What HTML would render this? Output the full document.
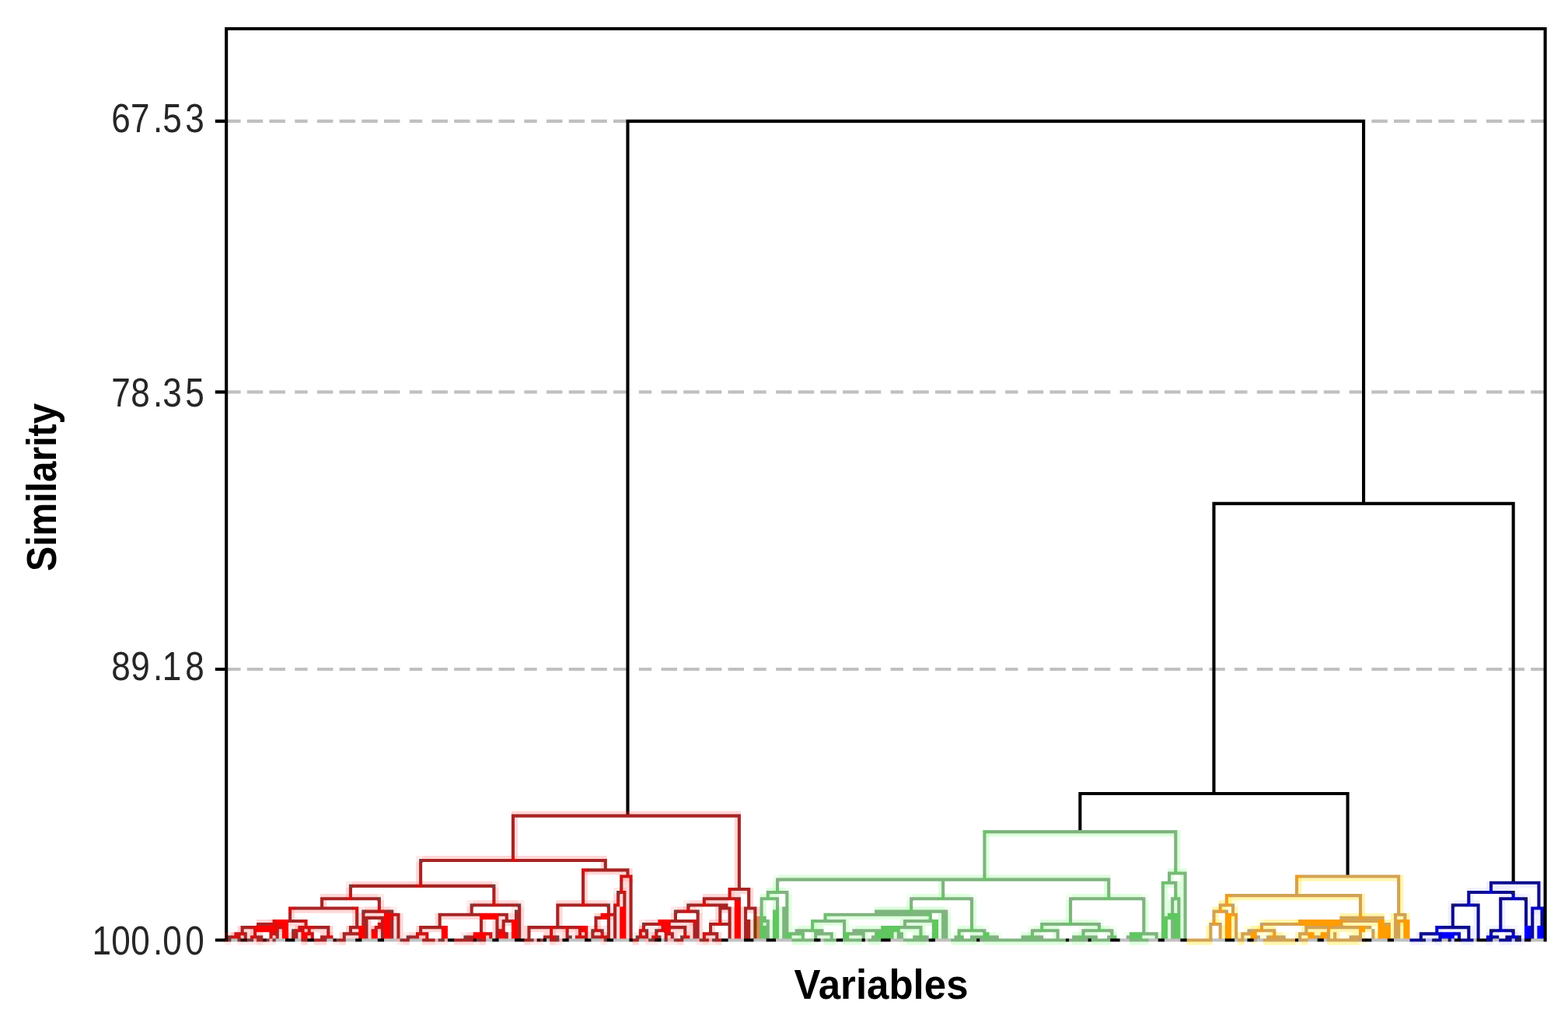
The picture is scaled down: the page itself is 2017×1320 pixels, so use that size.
<!DOCTYPE html>
<html lang="en"><head><meta charset="utf-8"><title>Dendrogram</title>
<style>
html,body{margin:0;padding:0;background:#fff}
body{width:2017px;height:1320px;overflow:hidden}
svg{display:block}
text{font-family:"Liberation Sans",sans-serif;fill:#262626}
.b{font-weight:bold;fill:#000}
</style></head><body>
<svg width="2017" height="1320" viewBox="0 0 2017 1320">
<rect width="2017" height="1320" fill="#fff"/>
<g>
<path fill="#ffffd8" d="M1551.22 1182.9H1555.32V1187H1551.22ZM1551.22 1187H1556.02V1191.8H1551.22ZM1555.32 1182.9H1560.12V1187.7H1555.32ZM1566.91 1182.9H1571.71V1187.7H1566.91ZM1571.71 1182.9H1576.51V1187H1571.71ZM1571.01 1187H1576.51V1191.8H1571.01ZM1575.11 1165.8H1579.91V1171.3H1575.11ZM1579.91 1165.8H1584.7V1170.6H1579.91ZM1579.21 1170.6H1584.7V1175.4H1579.21ZM1583.3 1157.6H1588.1V1163.1H1583.3ZM1588.1 1157.6H1592.2V1162.4H1588.1ZM1587.4 1162.4H1592.2V1167.2H1587.4ZM1600.4 1191.1H1604.49V1195.2H1600.4ZM1600.4 1195.2H1605.19V1200H1600.4ZM1604.49 1191.1H1609.29V1195.9H1604.49ZM1608.59 1210.9H1616.79V1215.7H1608.59ZM1616.79 1182.9H1620.89V1187H1616.79ZM1616.79 1187H1621.59V1191.8H1616.79ZM1616.09 1198.6H1620.89V1204.1H1616.09ZM1620.89 1182.9H1625.68V1187.7H1620.89ZM1620.89 1198.6H1629.08V1203.4H1620.89ZM1620.19 1203.4H1629.78V1208.2H1620.19ZM1629.08 1198.6H1633.88V1204.1H1629.08ZM1648.87 1199.3H1653.67V1204.1H1648.87ZM1653.67 1199.3H1657.77V1203.4H1653.67ZM1652.97 1203.4H1657.77V1208.2H1652.97ZM1665.26 1210.9H1674.86V1215.7H1665.26ZM1731.53 1198.6H1735.62V1203.4H1731.53ZM1731.53 1203.4H1736.32V1208.2H1731.53ZM1735.62 1198.6H1740.42V1204.1H1735.62ZM1747.22 1210.9H1756.11V1215.7H1747.22ZM1763.61 1190.4H1768.41V1195.9H1763.61ZM1768.41 1190.4H1773.2V1195.2H1768.41ZM1767.71 1195.2H1773.2V1200H1767.71Z"/>
<path fill="#f0fff0" d="M993.92 1125.5H998.02V1129.6H993.92ZM993.92 1129.6H998.72V1134.4H993.92ZM998.02 1125.5H1002.82V1130.3H998.02ZM1009.61 1141.9H1014.41V1146.7H1009.61ZM1014.41 1141.9H1018.51V1146H1014.41ZM1013.71 1146H1018.51V1150.8H1013.71ZM1017.81 1191.1H1022.61V1195.2H1017.81ZM1017.81 1195.2H1023.31V1200H1017.81ZM1022.61 1191.1H1027.4V1195.9H1022.61ZM1042.4 1210.9H1051.29V1215.7H1042.4ZM1091.57 1191.1H1096.37V1195.2H1091.57ZM1091.57 1195.2H1097.07V1200H1091.57ZM1096.37 1191.1H1101.16V1195.9H1096.37ZM1116.16 1198.6H1120.95V1203.4H1116.16ZM1116.16 1203.4H1121.65V1208.2H1116.16ZM1120.95 1198.6H1125.75V1204.1H1120.95ZM1157.83 1210.9H1166.73V1215.7H1157.83ZM1166.03 1150.1H1170.13V1154.2H1166.03ZM1166.03 1154.2H1170.83V1159H1166.03ZM1170.13 1150.1H1174.92V1154.9H1170.13ZM1189.92 1199.3H1194.71V1204.1H1189.92ZM1189.92 1210.9H1198.81V1215.7H1189.92ZM1194.71 1199.3H1199.51V1203.4H1194.71ZM1194.01 1203.4H1199.51V1208.2H1194.01ZM1214.5 1166.5H1219.3V1171.3H1214.5ZM1219.3 1166.5H1223.4V1170.6H1219.3ZM1218.6 1170.6H1223.4V1175.4H1218.6ZM1222.7 1199.3H1227.5V1203.4H1222.7ZM1222.7 1203.4H1228.2V1208.2H1222.7ZM1227.5 1199.3H1232.29V1204.1H1227.5ZM1247.29 1150.1H1252.08V1154.9H1247.29ZM1252.08 1150.1H1256.18V1154.2H1252.08ZM1251.38 1154.2H1256.18V1159H1251.38ZM1255.48 1210.9H1265.08V1215.7H1255.48ZM1263.68 1191.1H1268.47V1195.9H1263.68ZM1268.47 1191.1H1272.57V1195.2H1268.47ZM1267.77 1195.2H1272.57V1200H1267.77ZM1280.07 1199.3H1284.87V1204.1H1280.07ZM1284.87 1199.3H1288.96V1203.4H1284.87ZM1284.17 1203.4H1288.96V1208.2H1284.17ZM1321.75 1191.1H1325.84V1195.2H1321.75ZM1321.75 1195.2H1326.54V1200H1321.75ZM1325.84 1191.1H1330.64V1195.9H1325.84ZM1337.44 1198.6H1342.23V1204.1H1337.44ZM1342.23 1198.6H1346.33V1203.4H1342.23ZM1341.53 1203.4H1346.33V1208.2H1341.53ZM1370.92 1150.1H1375.02V1154.2H1370.92ZM1370.92 1154.2H1375.72V1159H1370.92ZM1370.22 1210.9H1379.81V1215.7H1370.22ZM1375.02 1150.1H1379.81V1154.9H1375.02ZM1387.31 1190.4H1391.41V1195.2H1387.31ZM1387.31 1195.2H1392.11V1200H1387.31ZM1391.41 1190.4H1396.21V1195.9H1391.41ZM1394.81 1210.9H1404.4V1215.7H1394.81ZM1411.2 1182.9H1415.99V1187.7H1411.2ZM1415.99 1182.9H1420.09V1187H1415.99ZM1415.29 1187H1420.09V1191.8H1415.29ZM1420.09 1198.6H1424.19V1203.4H1420.09ZM1420.09 1203.4H1424.89V1208.2H1420.09ZM1424.19 1198.6H1428.99V1204.1H1424.19ZM1427.59 1191.1H1432.39V1195.9H1427.59ZM1432.39 1191.1H1436.48V1195.2H1432.39ZM1431.69 1195.2H1436.48V1200H1431.69ZM1444.68 1199.3H1448.78V1203.4H1444.68ZM1444.68 1203.4H1449.48V1208.2H1444.68ZM1448.78 1199.3H1453.58V1204.1H1448.78ZM1468.57 1150.1H1473.36V1154.9H1468.57ZM1473.36 1150.1H1477.46V1154.2H1473.36ZM1472.66 1154.2H1477.46V1159H1472.66ZM1501.35 1150.1H1506.15V1154.2H1501.35ZM1501.35 1154.2H1506.85V1159H1501.35ZM1506.15 1150.1H1510.94V1154.9H1506.15Z"/>
<path fill="#f6f6ff" d="M1829.17 1210.9H1846.96V1215.7H1829.17ZM1862.66 1158.3H1866.75V1162.4H1862.66ZM1862.66 1162.4H1867.45V1167.2H1862.66ZM1862.66 1210.9H1870.85V1215.7H1862.66ZM1866.75 1158.3H1871.55V1163.1H1866.75ZM1911.83 1191.1H1915.93V1195.2H1911.83ZM1911.83 1195.2H1916.63V1200H1911.83ZM1915.93 1191.1H1920.72V1195.9H1915.93ZM1943.91 1141.2H1948.71V1146.7H1943.91ZM1943.91 1191.1H1948.71V1195.9H1943.91ZM1943.91 1210.9H1961V1215.7H1943.91ZM1948.71 1141.2H1952.81V1146H1948.71ZM1948.01 1146H1952.81V1150.8H1948.01ZM1948.71 1191.1H1952.81V1195.2H1948.71ZM1948.01 1195.2H1952.81V1200H1948.01ZM1952.11 1199.3H1956.9V1204.1H1952.11ZM1956.9 1199.3H1961.7V1203.4H1956.9ZM1956.2 1203.4H1961.7V1208.2H1956.2ZM1960.3 1150.1H1965.1V1154.9H1960.3ZM1965.1 1150.1H1969.2V1154.2H1965.1ZM1964.4 1154.2H1969.2V1159H1964.4Z"/>
<path fill="#f0f0ff" d="M1813.48 1210.9H1829.87V1215.7H1813.48ZM1821.68 1199.3H1826.48V1208.2H1821.68ZM1829.17 1202.7H1846.96V1208.2H1829.17ZM1846.26 1210.9H1854.46V1215.7H1846.26ZM1853.76 1194.5H1879.05V1200H1853.76ZM1862.66 1166.5H1867.45V1191.8H1862.66ZM1870.85 1158.3H1887.94V1163.1H1870.85ZM1879.05 1194.5H1887.94V1199.3H1879.05ZM1879.05 1210.9H1895.44V1215.7H1879.05ZM1887.24 1141.9H1912.53V1146.7H1887.24ZM1890.64 1149.4H1895.44V1159H1890.64ZM1890.64 1191.1H1900.24V1208.2H1890.64ZM1895.44 1165.8H1900.24V1191.1H1895.44ZM1894.74 1158.3H1903.63V1163.1H1894.74ZM1911.83 1133.7H1916.63V1142.6H1911.83ZM1911.83 1210.9H1920.02V1215.7H1911.83ZM1920.02 1191.1H1928.92V1195.9H1920.02ZM1919.32 1198.6H1928.22V1204.1H1919.32ZM1919.32 1141.9H1944.61V1146.7H1919.32ZM1919.32 1137.1H1978.09V1141.9H1919.32ZM1928.22 1149.4H1945.31V1154.9H1928.22ZM1928.22 1210.9H1944.61V1215.7H1928.22ZM1931.62 1157.6H1936.42V1191.8H1931.62ZM1935.72 1191.1H1944.61V1195.9H1935.72ZM1936.42 1198.6H1945.31V1204.1H1936.42ZM1952.11 1150.1H1961V1154.9H1952.11ZM1964.4 1158.3H1969.2V1166.5H1964.4ZM1964.4 1166.5H1969.9V1191.8H1964.4ZM1972.6 1187H1977.39V1191.1H1972.6ZM1972.6 1191.1H1978.09V1208.2H1972.6ZM1972.6 1174H1982.19V1187H1972.6ZM1977.39 1187H1982.19V1191.8H1977.39ZM1980.79 1133.7H1986.29V1167.2H1980.79Z"/>
<path fill="#deffde" d="M977.53 1150.1H986.43V1154.9H977.53ZM980.93 1157.6H985.73V1175.4H980.93ZM985.73 1141.9H994.62V1146.7H985.73ZM989.12 1182.9H994.62V1208.2H989.12ZM993.92 1133.7H998.72V1142.6H993.92ZM993.92 1157.6H998.72V1167.2H993.92ZM993.22 1149.4H1002.12V1154.9H993.22ZM1001.42 1166.5H1006.92V1208.2H1001.42ZM1001.42 1141.9H1010.31V1146.7H1001.42ZM1002.12 1125.5H1265.08V1130.3H1002.12ZM1013.71 1150.1H1018.51V1200H1013.71ZM1017.81 1202.7H1027.4V1208.2H1017.81ZM1018.51 1210.9H1043.1V1215.7H1018.51ZM1026.7 1191.1H1043.8V1195.9H1026.7ZM1043.1 1198.6H1047.89V1208.2H1043.1ZM1050.59 1191.1H1059.49V1195.9H1050.59ZM1050.59 1202.7H1068.38V1208.2H1050.59ZM1050.59 1186.3H1084.77V1191.1H1050.59ZM1059.49 1210.9H1075.88V1215.7H1059.49ZM1066.98 1178.1H1088.17V1183.6H1066.98ZM1071.08 1199.3H1075.88V1208.2H1071.08ZM1084.07 1210.9H1108.66V1215.7H1084.07ZM1087.47 1182.9H1092.27V1200H1087.47ZM1088.17 1178.1H1161.93V1182.9H1088.17ZM1091.57 1202.7H1109.36V1208.2H1091.57ZM1100.46 1191.1H1133.95V1195.9H1100.46ZM1112.06 1198.6H1116.86V1208.2H1112.06ZM1116.86 1210.9H1133.25V1215.7H1116.86ZM1125.05 1166.5H1166.73V1171.3H1125.05ZM1148.94 1198.6H1154.44V1208.2H1148.94ZM1157.83 1182.9H1162.63V1191.8H1157.83ZM1157.13 1194.5H1161.93V1200H1157.13ZM1161.23 1199.3H1166.03V1208.2H1161.23ZM1161.93 1194.5H1183.12V1199.3H1161.93ZM1161.93 1178.1H1191.32V1183.6H1161.93ZM1166.03 1158.3H1170.83V1167.2H1166.03ZM1165.33 1186.3H1186.52V1191.8H1165.33ZM1166.03 1210.9H1190.62V1215.7H1166.03ZM1174.22 1199.3H1183.12V1204.1H1174.22ZM1174.22 1150.1H1207.71V1154.9H1174.22ZM1173.52 1166.5H1215.2V1171.3H1173.52ZM1185.82 1191.1H1190.62V1200H1185.82ZM1186.52 1186.3H1199.51V1191.1H1186.52ZM1207.01 1133H1211.81V1150.8H1207.01ZM1207.01 1174H1211.81V1182.9H1207.01ZM1206.31 1182.9H1211.81V1208.2H1206.31ZM1214.5 1150.1H1247.99V1154.9H1214.5ZM1218.6 1174.7H1223.4V1208.2H1218.6ZM1223.4 1210.9H1256.18V1215.7H1223.4ZM1231.59 1191.1H1248.69V1195.9H1231.59ZM1247.99 1198.6H1265.08V1204.1H1247.99ZM1251.38 1158.3H1256.18V1191.8H1251.38ZM1255.48 1191.1H1264.38V1195.9H1255.48ZM1264.38 1210.9H1370.92V1215.7H1264.38ZM1267.77 1075.6H1272.57V1126.2H1267.77ZM1271.87 1199.3H1280.77V1204.1H1271.87ZM1271.87 1125.5H1428.29V1130.3H1271.87ZM1271.87 1071.5H1510.94V1076.3H1271.87ZM1313.55 1199.3H1322.45V1204.1H1313.55ZM1329.94 1191.1H1338.84V1195.9H1329.94ZM1329.24 1198.6H1338.14V1204.1H1329.24ZM1338.14 1182.9H1371.62V1187.7H1338.14ZM1345.63 1190.4H1362.72V1195.9H1345.63ZM1354.53 1198.6H1359.33V1208.2H1354.53ZM1370.92 1158.3H1375.72V1183.6H1370.92ZM1379.11 1199.3H1388.01V1204.1H1379.11ZM1379.11 1210.9H1395.51V1215.7H1379.11ZM1378.41 1182.9H1411.9V1187.7H1378.41ZM1379.11 1150.1H1420.79V1154.9H1379.11ZM1395.51 1190.4H1412.6V1195.9H1395.51ZM1394.81 1198.6H1411.9V1204.1H1394.81ZM1403.7 1210.9H1428.29V1215.7H1403.7ZM1420.09 1133H1424.89V1150.8H1420.09ZM1419.39 1191.1H1428.29V1195.9H1419.39ZM1427.59 1150.1H1469.27V1154.9H1427.59ZM1452.88 1210.9H1477.46V1215.7H1452.88ZM1468.57 1202.7H1486.36V1208.2H1468.57ZM1472.66 1158.3H1477.46V1200H1472.66ZM1489.06 1199.3H1494.55V1208.2H1489.06ZM1497.25 1141.2H1502.05V1158.3H1497.25ZM1497.25 1158.3H1506.85V1175.4H1497.25ZM1501.35 1182.2H1506.85V1208.2H1501.35ZM1502.05 1117.3H1510.94V1122.1H1502.05ZM1501.35 1137.1H1510.94V1141.9H1501.35ZM1505.45 1124.8H1510.24V1134.4H1505.45ZM1509.54 1157.6H1515.04V1175.4H1509.54ZM1513.64 1068.1H1518.44V1118H1513.64ZM1513.64 1146H1518.44V1150.8H1513.64ZM1513.64 1133.7H1523.24V1146H1513.64ZM1518.44 1124.8H1523.24V1133.7H1518.44ZM1518.44 1146H1523.24V1150.1H1518.44ZM1517.74 1150.1H1523.24V1208.2H1517.74ZM1517.74 1117.3H1526.64V1122.1H1517.74Z"/>
<path fill="#fff6ae" d="M1526.64 1210.9H1559.42V1215.7H1526.64ZM1551.22 1191.1H1556.02V1208.2H1551.22ZM1559.42 1166.5H1568.31V1171.3H1559.42ZM1562.82 1174H1567.61V1183.6H1562.82ZM1567.61 1158.3H1576.51V1163.1H1567.61ZM1571.01 1191.1H1576.51V1208.2H1571.01ZM1583.3 1182.2H1588.8V1208.2H1583.3ZM1583.3 1153.5H1748.62V1158.3H1583.3ZM1587.4 1166.5H1592.2V1175.4H1587.4ZM1591.5 1199.3H1597V1208.2H1591.5ZM1592.2 1210.9H1600.4V1215.7H1592.2ZM1599.7 1202.7H1609.29V1208.2H1599.7ZM1608.59 1191.1H1617.49V1195.9H1608.59ZM1624.28 1190.4H1641.37V1195.9H1624.28ZM1624.98 1182.9H1666.66V1187.7H1624.98ZM1624.98 1210.9H1665.96V1215.7H1624.98ZM1640.67 1199.3H1649.57V1204.1H1640.67ZM1665.96 1199.3H1670.76V1208.2H1665.96ZM1669.36 1133H1674.16V1150.8H1669.36ZM1674.16 1190.4H1678.95V1200H1674.16ZM1673.46 1202.7H1683.05V1208.2H1673.46ZM1674.16 1210.9H1682.35V1215.7H1674.16ZM1673.46 1128.9H1797.79V1133.7H1673.46ZM1681.65 1194.5H1690.55V1200H1681.65ZM1690.55 1194.5H1698.74V1199.3H1690.55ZM1689.85 1199.3H1699.44V1204.1H1689.85ZM1698.74 1194.5H1707.64V1200H1698.74ZM1706.94 1210.9H1747.92V1215.7H1706.94ZM1710.34 1198.6H1715.83V1208.2H1710.34ZM1714.43 1194.5H1719.23V1200H1714.43ZM1718.53 1199.3H1723.33V1208.2H1718.53ZM1719.23 1194.5H1748.62V1199.3H1719.23ZM1723.33 1174.7H1748.62V1179.5H1723.33ZM1730.83 1186.3H1764.31V1191.8H1730.83ZM1739.72 1199.3H1748.62V1204.1H1739.72ZM1751.31 1150.1H1756.11V1175.4H1751.31ZM1751.31 1198.6H1756.11V1208.2H1751.31ZM1755.41 1194.5H1765.01V1199.3H1755.41ZM1755.41 1174.7H1780.7V1179.5H1755.41ZM1764.31 1186.3H1773.2V1191.1H1764.31ZM1767.71 1199.3H1773.2V1208.2H1767.71ZM1780 1182.9H1788.89V1187.7H1780ZM1788.89 1174.7H1793.69V1187H1788.89ZM1788.19 1187H1793.69V1208.2H1788.19ZM1796.39 1178.1H1805.99V1183.6H1796.39ZM1800.49 1125.5H1805.29V1175.4H1800.49ZM1800.49 1190.4H1805.99V1208.2H1800.49ZM1808.68 1174.7H1813.48V1183.6H1808.68Z"/>
<path fill="#ffeaea" d="M289.1 1210.9H297.3V1215.7H289.1ZM292.5 1199.3H298V1204.1H292.5ZM305.49 1210.9H330.78V1215.7H305.49ZM337.57 1210.9H354.66V1215.7H337.57ZM370.36 1190.4H375.15V1195.2H370.36ZM370.36 1195.2H375.85V1200H370.36ZM375.15 1190.4H379.95V1195.9H375.15ZM428.43 1210.9H437.32V1215.7H428.43ZM444.82 1133.7H448.91V1137.8H444.82ZM444.82 1137.8H449.61V1142.6H444.82ZM448.91 1133.7H453.71V1138.5H448.91ZM460.51 1166.5H465.31V1170.6H460.51ZM460.51 1170.6H466.01V1175.4H460.51ZM465.31 1166.5H470.1V1171.3H465.31ZM485.09 1150.1H489.89V1154.9H485.09ZM489.89 1150.1H493.99V1154.2H489.89ZM489.19 1154.2H493.99V1159H489.19ZM501.49 1166.5H506.28V1171.3H501.49ZM506.28 1166.5H510.38V1170.6H506.28ZM505.58 1170.6H510.38V1175.4H505.58ZM510.38 1210.9H519.28V1215.7H510.38ZM517.88 1199.3H522.67V1203.4H517.88ZM517.88 1203.4H523.37V1208.2H517.88ZM522.67 1199.3H527.47V1204.1H522.67ZM534.97 1100.9H539.07V1105H534.97ZM534.97 1105H539.77V1109.8H534.97ZM539.07 1100.9H543.86V1105.7H539.07ZM558.85 1210.9H575.95V1215.7H558.85ZM592.34 1199.3H596.44V1203.4H592.34ZM592.34 1203.4H597.14V1208.2H592.34ZM596.44 1199.3H601.23V1204.1H596.44ZM600.53 1158.3H604.63V1162.4H600.53ZM600.53 1162.4H605.33V1167.2H600.53ZM604.63 1158.3H609.43V1163.1H604.63ZM608.03 1210.9H617.62V1215.7H608.03ZM632.62 1133.7H637.41V1138.5H632.62ZM637.41 1133.7H641.51V1137.8H637.41ZM636.71 1137.8H641.51V1142.6H636.71ZM657.9 1165.8H662V1170.6H657.9ZM657.9 1170.6H662.7V1175.4H657.9ZM662 1165.8H666.8V1171.3H662ZM665.4 1158.3H670.2V1163.1H665.4ZM670.2 1158.3H674.29V1162.4H670.2ZM669.5 1162.4H674.29V1167.2H669.5ZM681.79 1210.9H698.88V1215.7H681.79ZM714.57 1198.6H719.37V1204.1H714.57ZM714.57 1210.9H723.47V1215.7H714.57ZM719.37 1198.6H724.17V1203.4H719.37ZM718.67 1203.4H724.17V1208.2H718.67ZM730.96 1198.6H735.76V1204.1H730.96ZM735.76 1198.6H740.56V1203.4H735.76ZM735.06 1203.4H740.56V1208.2H735.06ZM755.55 1191.1H760.35V1195.2H755.55ZM755.55 1195.2H761.05V1200H755.55ZM760.35 1191.1H765.14V1195.9H760.35ZM771.94 1191.1H776.74V1195.9H771.94ZM772.64 1210.9H780.84V1215.7H772.64ZM776.74 1191.1H781.54V1195.2H776.74ZM776.04 1195.2H781.54V1200H776.04ZM780.14 1158.3H784.93V1163.1H780.14ZM784.93 1158.3H789.73V1162.4H784.93ZM784.23 1162.4H789.73V1167.2H784.23ZM789.03 1141.9H793.13V1146H789.03ZM789.03 1146H793.83V1150.8H789.03ZM793.13 1141.9H797.93V1146.7H793.13ZM812.92 1199.3H817.72V1203.4H812.92ZM812.92 1203.4H818.42V1208.2H812.92ZM817.72 1199.3H822.51V1204.1H817.72ZM821.81 1182.9H825.91V1187H821.81ZM821.81 1187H826.61V1191.8H821.81ZM825.91 1182.9H830.71V1187.7H825.91ZM829.31 1190.4H834.11V1195.9H829.31ZM830.01 1210.9H846.4V1215.7H830.01ZM834.11 1190.4H842.3V1195.2H834.11ZM833.41 1195.2H843V1200H833.41ZM842.3 1190.4H847.1V1195.9H842.3ZM845.7 1198.6H850.5V1204.1H845.7ZM850.5 1198.6H855.3V1203.4H850.5ZM849.8 1203.4H855.3V1208.2H849.8ZM854.6 1210.9H871.69V1215.7H854.6ZM862.79 1166.5H866.89V1170.6H862.79ZM862.79 1170.6H867.59V1175.4H862.79ZM866.89 1166.5H871.69V1171.3H866.89ZM870.29 1198.6H875.09V1203.4H870.29ZM870.29 1203.4H875.79V1208.2H870.29ZM875.09 1198.6H879.88V1204.1H875.09ZM879.18 1158.3H883.28V1162.4H879.18ZM879.18 1162.4H883.98V1167.2H879.18ZM883.28 1158.3H888.08V1163.1H883.28ZM894.87 1165.8H899.67V1171.3H894.87ZM895.57 1210.9H904.47V1215.7H895.57ZM899.67 1165.8H903.77V1170.6H899.67ZM898.97 1170.6H903.77V1175.4H898.97ZM911.27 1210.9H920.86V1215.7H911.27Z"/>
<path fill="#d2ffd2" d="M980.93 1174.7H985.73V1179.5H980.93ZM980.93 1186.3H986.43V1191.8H980.93ZM989.12 1149.4H993.92V1154.9H989.12ZM993.92 1141.9H998.72V1146.7H993.92ZM993.92 1166.5H998.72V1171.3H993.92ZM1026.7 1202.7H1031.5V1208.2H1026.7ZM1046.49 1186.3H1051.29V1195.9H1046.49ZM1062.88 1178.1H1067.68V1183.6H1062.88ZM1166.03 1166.5H1170.83V1171.3H1166.03ZM1185.82 1199.3H1190.62V1204.1H1185.82ZM1190.62 1178.1H1195.41V1183.6H1190.62ZM1207.01 1150.1H1211.81V1154.9H1207.01ZM1234.99 1198.6H1239.79V1204.1H1234.99ZM1251.38 1191.1H1256.18V1195.9H1251.38ZM1267.77 1071.5H1272.57V1076.3H1267.77ZM1267.77 1125.5H1272.57V1130.3H1267.77ZM1321.75 1199.3H1326.54V1204.1H1321.75ZM1341.53 1190.4H1346.33V1195.9H1341.53ZM1370.92 1182.9H1375.72V1187.7H1370.92ZM1387.31 1199.3H1392.11V1204.1H1387.31ZM1415.29 1191.1H1420.09V1195.9H1415.29ZM1420.09 1150.1H1424.89V1154.9H1420.09ZM1431.69 1199.3H1436.48V1204.1H1431.69ZM1497.25 1137.1H1502.05V1141.9H1497.25ZM1497.25 1174.7H1502.75V1179.5H1497.25ZM1513.64 1117.3H1518.44V1122.1H1513.64ZM1513.64 1150.1H1518.44V1154.9H1513.64Z"/>
<path fill="#eaeaff" d="M1846.26 1202.7H1851.06V1208.2H1846.26ZM1849.66 1194.5H1854.46V1200H1849.66ZM1870.15 1202.7H1875.65V1208.2H1870.15ZM1890.64 1158.3H1895.44V1163.1H1890.64ZM1911.83 1141.9H1916.63V1146.7H1911.83ZM1911.83 1199.3H1916.63V1204.1H1911.83ZM1931.62 1191.1H1936.42V1195.9H1931.62ZM1948.01 1150.1H1952.81V1154.9H1948.01ZM1948.01 1199.3H1952.81V1204.1H1948.01ZM1972.6 1169.9H1982.19V1174.7H1972.6Z"/>
<path fill="#fff684" d="M1562.82 1182.9H1567.61V1187.7H1562.82ZM1571.01 1165.8H1575.81V1171.3H1571.01ZM1579.21 1153.5H1584V1163.1H1579.21ZM1583.3 1178.1H1588.8V1182.9H1583.3ZM1616.79 1191.1H1621.59V1195.9H1616.79ZM1633.18 1198.6H1637.98V1204.1H1633.18ZM1665.96 1182.9H1670.76V1187.7H1665.96ZM1669.36 1128.9H1674.16V1133.7H1669.36ZM1710.34 1194.5H1715.13V1199.3H1710.34ZM1726.73 1186.3H1731.53V1191.8H1726.73ZM1751.31 1174.7H1756.11V1179.5H1751.31ZM1800.49 1186.3H1805.99V1191.1H1800.49Z"/>
<path fill="#ffe4cc" d="M972.73 1174H978.23V1179.5H972.73Z"/>
<path fill="#ffd8d8" d="M305.49 1191.1H310.29V1200H305.49ZM312.99 1194.5H317.78V1200H312.99ZM317.78 1194.5H322.58V1199.3H317.78ZM317.08 1199.3H322.58V1208.2H317.08ZM329.38 1198.6H338.27V1204.1H329.38ZM330.08 1210.9H338.27V1215.7H330.08ZM330.08 1182.9H347.17V1187.7H330.08ZM358.06 1198.6H363.56V1208.2H358.06ZM370.36 1199.3H375.85V1208.2H370.36ZM370.36 1186.3H379.25V1191.1H370.36ZM374.45 1174H379.25V1183.6H374.45ZM379.25 1186.3H388.15V1191.8H379.25ZM378.55 1169.9H453.71V1174.7H378.55ZM382.65 1198.6H388.15V1208.2H382.65ZM387.45 1210.9H395.64V1215.7H387.45ZM403.14 1194.5H420.93V1199.3H403.14ZM403.84 1210.9H420.23V1215.7H403.84ZM412.03 1199.3H420.93V1204.1H412.03ZM412.03 1150.1H445.52V1154.9H412.03ZM415.43 1157.6H420.23V1167.2H415.43ZM423.63 1191.1H428.43V1200H423.63ZM436.62 1199.3H441.42V1208.2H436.62ZM436.62 1210.9H444.82V1215.7H436.62ZM444.82 1141.9H449.61V1150.8H444.82ZM444.82 1191.1H449.61V1200H444.82ZM444.12 1202.7H461.91V1208.2H444.12ZM453.01 1174H457.81V1191.8H453.01ZM452.31 1194.5H461.91V1200H452.31ZM452.31 1150.1H485.79V1154.9H452.31ZM453.01 1133.7H535.67V1138.5H453.01ZM460.51 1174.7H466.01V1191.8H460.51ZM469.4 1166.5H486.49V1171.3H469.4ZM468.7 1174H494.69V1179.5H468.7ZM472.8 1182.2H477.6V1191.1H472.8ZM472.8 1191.1H478.3V1208.2H472.8ZM485.09 1198.6H490.59V1208.2H485.09ZM489.19 1158.3H493.99V1167.2H489.19ZM493.29 1166.5H502.19V1171.3H493.29ZM505.58 1182.2H511.08V1208.2H505.58ZM513.78 1174.7H518.58V1208.2H513.78ZM518.58 1210.9H526.77V1215.7H518.58ZM526.77 1199.3H535.67V1204.1H526.77ZM534.97 1109.1H539.77V1134.4H534.97ZM534.97 1191.1H539.77V1200H534.97ZM542.46 1194.5H551.36V1200H542.46ZM543.16 1210.9H559.55V1215.7H543.16ZM542.46 1133.7H633.32V1138.5H542.46ZM543.16 1100.9H658.6V1105.7H543.16ZM551.36 1194.5H568.45V1199.3H551.36ZM559.55 1174.7H564.35V1191.8H559.55ZM567.05 1178.1H617.62V1182.9H567.05ZM584.14 1210.9H608.73V1215.7H584.14ZM600.53 1166.5H605.33V1175.4H600.53ZM600.53 1199.3H609.43V1204.1H600.53ZM608.73 1158.3H634.02V1163.1H608.73ZM616.92 1210.9H625.12V1215.7H616.92ZM620.32 1182.2H625.12V1200H620.32ZM633.32 1182.2H638.11V1199.3H633.32ZM632.62 1199.3H638.11V1208.2H632.62ZM636.71 1141.9H641.51V1159H636.71ZM640.81 1178.1H645.61V1182.9H640.81ZM640.81 1182.9H646.31V1191.8H640.81ZM640.81 1158.3H666.1V1163.1H640.81ZM645.61 1178.1H650.41V1183.6H645.61ZM649.01 1186.3H658.6V1191.1H649.01ZM653.1 1199.3H658.6V1208.2H653.1ZM653.1 1174.7H662.7V1183.6H653.1ZM657.9 1043.5H806.12V1048.3H657.9ZM661.3 1051H666.1V1101.6H661.3ZM665.4 1100.9H780.84V1105.7H665.4ZM669.5 1166.5H674.29V1191.1H669.5ZM669.5 1191.1H679.09V1208.2H669.5ZM674.29 1210.9H682.49V1215.7H674.29ZM681.79 1194.5H707.78V1199.3H681.79ZM698.88 1199.3H707.78V1204.1H698.88ZM707.08 1210.9H715.27V1215.7H707.08ZM714.57 1194.5H724.17V1199.3H714.57ZM715.27 1158.3H748.75V1163.1H715.27ZM718.67 1165.8H723.47V1191.8H718.67ZM723.47 1198.6H728.26V1208.2H723.47ZM730.96 1194.5H740.56V1199.3H730.96ZM751.45 1124.8H756.25V1159H751.45ZM755.55 1199.3H761.05V1208.2H755.55ZM755.55 1158.3H780.84V1163.1H755.55ZM755.55 1120.7H797.23V1125.5H755.55ZM764.44 1174.7H773.34V1179.5H764.44ZM763.74 1198.6H773.34V1204.1H763.74ZM767.84 1182.2H772.64V1191.8H767.84ZM772.64 1108.4H777.44V1118H772.64ZM784.23 1166.5H789.73V1175.4H784.23ZM784.23 1182.2H789.73V1208.2H784.23ZM789.03 1150.1H793.83V1159H789.03ZM792.43 1165.8H797.93V1208.2H792.43ZM796.53 1149.4H802.03V1167.2H796.53ZM797.23 1120.7H806.12V1126.2H797.23ZM800.62 1137.8H805.42V1142.6H800.62ZM800.62 1133H810.22V1137.8H800.62ZM805.42 1137.8H810.22V1141.9H805.42ZM804.72 1141.9H810.22V1208.2H804.72ZM808.82 1117.3H813.62V1126.2H808.82ZM808.82 1043.5H952.94V1048.3H808.82ZM813.62 1210.9H821.81V1215.7H813.62ZM830.01 1182.9H847.1V1187.7H830.01ZM833.41 1199.3H838.91V1208.2H833.41ZM862.79 1174.7H867.59V1183.6H862.79ZM862.09 1194.5H866.89V1200H862.09ZM862.09 1186.3H883.28V1191.8H862.09ZM866.19 1199.3H870.99V1208.2H866.19ZM866.89 1194.5H879.88V1199.3H866.89ZM870.99 1166.5H879.88V1171.3H870.99ZM870.99 1210.9H879.18V1215.7H870.99ZM883.28 1186.3H888.08V1191.1H883.28ZM882.58 1191.1H887.38V1200H882.58ZM887.38 1190.4H892.18V1199.3H887.38ZM886.68 1199.3H892.18V1208.2H886.68ZM886.68 1165.8H895.57V1171.3H886.68ZM887.38 1158.3H904.47V1163.1H887.38ZM898.97 1174.7H903.77V1199.3H898.97ZM898.97 1199.3H904.47V1208.2H898.97ZM903.77 1210.9H911.97V1215.7H903.77ZM903.77 1150.1H937.25V1154.9H903.77ZM911.97 1182.9H920.86V1187.7H911.97ZM911.27 1202.7H920.86V1208.2H911.27ZM911.27 1157.6H936.55V1163.1H911.27ZM915.36 1190.4H920.16V1200H915.36ZM920.16 1165.8H924.96V1183.6H920.16ZM920.16 1210.9H928.36V1215.7H920.16ZM923.56 1199.3H928.36V1208.2H923.56ZM927.66 1169.9H937.25V1174.7H927.66ZM927.66 1182.9H937.25V1187.7H927.66ZM939.95 1166.5H945.45V1208.2H939.95ZM944.75 1051H949.55V1142.6H944.75ZM944.05 1150.1H952.94V1154.9H944.05ZM944.05 1145.3H961.84V1150.1H944.05ZM952.24 1166.5H957.74V1208.2H952.24ZM960.44 1169.9H970.03V1174.7H960.44ZM964.54 1141.9H969.33V1167.2H964.54ZM964.54 1182.9H970.03V1208.2H964.54ZM972.73 1166.5H978.23V1174.7H972.73Z"/>
<path fill="#ffc6c6" d="M297.3 1199.3H302.09V1204.1H297.3ZM308.89 1202.7H314.39V1208.2H308.89ZM321.88 1194.5H326.68V1204.1H321.88ZM346.47 1182.9H351.27V1187.7H346.47ZM349.87 1202.7H355.36V1208.2H349.87ZM358.06 1194.5H363.56V1199.3H358.06ZM374.45 1169.9H379.25V1174.7H374.45ZM379.25 1191.1H384.05V1195.9H379.25ZM387.45 1186.3H392.25V1191.8H387.45ZM390.85 1194.5H396.34V1200H390.85ZM394.94 1202.7H400.44V1208.2H394.94ZM399.04 1194.5H403.84V1200H399.04ZM423.63 1199.3H428.43V1204.1H423.63ZM444.82 1150.1H449.61V1154.9H444.82ZM453.01 1169.9H457.81V1174.7H453.01ZM477.6 1191.1H482.4V1195.9H477.6ZM485.79 1182.2H490.59V1187.7H485.79ZM485.09 1194.5H490.59V1199.3H485.09ZM489.19 1166.5H493.99V1171.3H489.19ZM505.58 1178.1H511.08V1182.9H505.58ZM534.97 1133.7H539.77V1138.5H534.97ZM538.37 1202.7H547.96V1208.2H538.37ZM624.42 1202.7H629.92V1208.2H624.42ZM636.71 1158.3H641.51V1163.1H636.71ZM640.81 1191.1H646.31V1195.9H640.81ZM661.3 1100.9H666.1V1105.7H661.3ZM710.47 1194.5H715.27V1204.1H710.47ZM723.47 1194.5H728.26V1199.3H723.47ZM739.86 1194.5H744.66V1204.1H739.86ZM747.35 1198.6H752.85V1204.1H747.35ZM751.45 1120.7H756.25V1125.5H751.45ZM751.45 1158.3H756.25V1163.1H751.45ZM767.84 1191.1H772.64V1195.9H767.84ZM776.04 1199.3H781.54V1204.1H776.04ZM784.23 1178.1H789.73V1182.9H784.23ZM789.03 1158.3H793.83V1163.1H789.03ZM800.62 1141.9H805.42V1146.7H800.62ZM800.62 1128.9H810.22V1133.7H800.62ZM821.81 1191.1H826.61V1195.9H821.81ZM825.21 1198.6H830.71V1204.1H825.21ZM838.21 1199.3H843V1204.1H838.21ZM846.4 1190.4H851.2V1195.9H846.4ZM857.99 1202.7H863.49V1208.2H857.99ZM879.18 1166.5H883.98V1171.3H879.18ZM882.58 1199.3H887.38V1204.1H882.58ZM887.38 1186.3H892.18V1191.1H887.38ZM907.17 1157.6H911.97V1163.1H907.17ZM907.17 1202.7H911.97V1208.2H907.17ZM920.16 1182.9H924.96V1187.7H920.16ZM939.95 1145.3H944.75V1154.9H939.95Z"/>
<path fill="#b4ccb4" d="M1157.13 1206.8H1162.63V1211.6H1157.13Z"/>
<path fill="#f0aeae" d="M325.28 1206.8H330.78V1211.6H325.28ZM345.77 1206.8H351.27V1211.6H345.77ZM509.68 1206.8H515.18V1211.6H509.68ZM558.85 1207.5H564.35V1211.6H558.85ZM571.15 1206.8H576.65V1211.6H571.15ZM685.89 1207.5H691.38V1211.6H685.89ZM718.67 1207.5H724.17V1211.6H718.67ZM771.94 1206.8H777.44V1211.6H771.94ZM829.31 1206.8H834.81V1211.6H829.31ZM857.99 1207.5H862.79V1211.6H857.99ZM862.79 1206.8H867.59V1211.6H862.79ZM894.87 1206.8H900.37V1211.6H894.87ZM911.27 1207.5H916.76V1211.6H911.27Z"/>
<path fill="#babaf6" d="M1833.27 1207.5H1842.87V1211.6H1833.27ZM1866.05 1206.8H1871.55V1211.6H1866.05ZM1943.91 1206.8H1949.41V1211.6H1943.91ZM1956.2 1207.5H1961.7V1211.6H1956.2Z"/>
<path fill="#c0c0c0" d="M292.5 153.8H309.59V157.9H292.5ZM292.5 502.3H309.59V506.4H292.5ZM292.5 859H309.59V863.1H292.5ZM296.6 1206.8H306.19V1211.6H296.6ZM317.78 153.8H338.27V157.9H317.78ZM317.78 502.3H338.27V506.4H317.78ZM317.78 859H338.27V863.1H317.78ZM346.47 153.8H366.96V157.9H346.47ZM346.47 502.3H366.96V506.4H346.47ZM346.47 859H366.96V863.1H346.47ZM353.96 1206.8H358.76V1211.6H353.96ZM358.76 1207.5H362.86V1211.6H358.76ZM362.86 1206.8H367.66V1211.6H362.86ZM378.55 1206.8H383.35V1211.6H378.55ZM379.25 153.8H395.64V157.9H379.25ZM379.25 502.3H395.64V506.4H379.25ZM379.25 859H395.64V863.1H379.25ZM383.35 1207.5H388.15V1211.6H383.35ZM407.94 153.8H428.43V157.9H407.94ZM407.94 502.3H428.43V506.4H407.94ZM407.94 859H428.43V863.1H407.94ZM419.53 1206.8H429.13V1211.6H419.53ZM436.62 153.8H457.11V157.9H436.62ZM436.62 502.3H457.11V506.4H436.62ZM436.62 859H457.11V863.1H436.62ZM444.12 1207.5H457.81V1211.6H444.12ZM464.61 1206.8H473.5V1211.6H464.61ZM465.31 153.8H485.79V157.9H465.31ZM465.31 502.3H485.79V506.4H465.31ZM465.31 859H485.79V863.1H465.31ZM473.5 1207.5H477.6V1211.6H473.5ZM477.6 1206.8H486.49V1211.6H477.6ZM493.29 1206.8H506.28V1211.6H493.29ZM493.99 153.8H514.48V157.9H493.99ZM493.99 502.3H514.48V506.4H493.99ZM493.99 859H514.48V863.1H493.99ZM506.28 1207.5H510.38V1211.6H506.28ZM526.07 1206.8H539.07V1211.6H526.07ZM526.77 153.8H543.16V157.9H526.77ZM526.77 502.3H543.16V506.4H526.77ZM526.77 859H543.16V863.1H526.77ZM539.07 1207.5H543.86V1211.6H539.07ZM555.46 153.8H575.95V157.9H555.46ZM555.46 502.3H575.95V506.4H555.46ZM555.46 859H575.95V863.1H555.46ZM584.14 153.8H604.63V157.9H584.14ZM584.14 502.3H604.63V506.4H584.14ZM584.14 859H604.63V863.1H584.14ZM612.83 153.8H633.32V157.9H612.83ZM612.83 502.3H633.32V506.4H612.83ZM612.83 859H633.32V863.1H612.83ZM624.42 1207.5H629.22V1211.6H624.42ZM629.22 1206.8H634.02V1211.6H629.22ZM640.81 1206.8H653.8V1211.6H640.81ZM641.51 153.8H662V157.9H641.51ZM641.51 502.3H662V506.4H641.51ZM641.51 859H662V863.1H641.51ZM653.8 1207.5H657.9V1211.6H653.8ZM657.9 1206.8H662.7V1211.6H657.9ZM674.29 153.8H690.68V157.9H674.29ZM674.29 502.3H690.68V506.4H674.29ZM674.29 859H690.68V863.1H674.29ZM702.28 1206.8H707.78V1211.6H702.28ZM702.98 153.8H723.47V157.9H702.98ZM702.98 502.3H723.47V506.4H702.98ZM702.98 859H723.47V863.1H702.98ZM730.96 1206.8H735.76V1211.6H730.96ZM731.66 153.8H752.15V157.9H731.66ZM731.66 502.3H752.15V506.4H731.66ZM731.66 859H752.15V863.1H731.66ZM735.76 1207.5H739.86V1211.6H735.76ZM739.86 1206.8H752.85V1211.6H739.86ZM759.65 1206.8H772.64V1211.6H759.65ZM760.35 153.8H780.84V157.9H760.35ZM760.35 502.3H780.84V506.4H760.35ZM760.35 859H780.84V863.1H760.35ZM788.33 1206.8H793.13V1211.6H788.33ZM789.03 153.8H806.12V157.9H789.03ZM789.03 502.3H806.12V506.4H789.03ZM789.03 859H806.12V863.1H789.03ZM793.13 1207.5H797.23V1211.6H793.13ZM797.23 1206.8H805.42V1211.6H797.23ZM805.42 1207.5H810.22V1211.6H805.42ZM821.11 1206.8H830.01V1211.6H821.11ZM821.81 502.3H838.21V506.4H821.81ZM821.81 859H838.21V863.1H821.81ZM849.8 1207.5H855.3V1211.6H849.8ZM850.5 502.3H870.99V506.4H850.5ZM850.5 859H870.99V863.1H850.5ZM878.48 1206.8H887.38V1211.6H878.48ZM879.18 502.3H899.67V506.4H879.18ZM879.18 859H899.67V863.1H879.18ZM887.38 1207.5H891.48V1211.6H887.38ZM891.48 1206.8H895.57V1211.6H891.48ZM907.87 502.3H928.36V506.4H907.87ZM907.87 859H928.36V863.1H907.87ZM935.85 1206.8H940.65V1211.6H935.85ZM936.55 502.3H957.04V506.4H936.55ZM936.55 859H957.04V863.1H936.55ZM940.65 1207.5H944.75V1211.6H940.65ZM944.75 1206.8H952.94V1211.6H944.75ZM952.94 1207.5H957.74V1211.6H952.94ZM969.33 502.3H985.73V506.4H969.33ZM969.33 859H985.73V863.1H969.33ZM968.63 1206.8H986.43V1211.6H968.63ZM997.32 1206.8H1002.12V1211.6H997.32ZM998.02 502.3H1018.51V506.4H998.02ZM998.02 859H1018.51V863.1H998.02ZM1002.12 1207.5H1006.22V1211.6H1002.12ZM1006.22 1206.8H1019.21V1211.6H1006.22ZM1026.7 502.3H1047.19V506.4H1026.7ZM1026.7 859H1047.19V863.1H1026.7ZM1054.69 1207.5H1060.19V1211.6H1054.69ZM1055.39 502.3H1075.88V506.4H1055.39ZM1055.39 859H1075.88V863.1H1055.39ZM1084.07 502.3H1104.56V506.4H1084.07ZM1084.07 859H1104.56V863.1H1084.07ZM1112.06 1207.5H1117.56V1211.6H1112.06ZM1112.76 502.3H1133.25V506.4H1112.76ZM1112.76 859H1133.25V863.1H1112.76ZM1144.84 1206.8H1149.64V1211.6H1144.84ZM1145.54 502.3H1161.93V506.4H1145.54ZM1145.54 859H1161.93V863.1H1145.54ZM1149.64 1207.5H1153.74V1211.6H1149.64ZM1153.74 1206.8H1157.83V1211.6H1153.74ZM1174.22 502.3H1194.71V506.4H1174.22ZM1174.22 859H1194.71V863.1H1174.22ZM1202.21 1206.8H1207.01V1211.6H1202.21ZM1202.91 502.3H1223.4V506.4H1202.91ZM1202.91 859H1223.4V863.1H1202.91ZM1207.01 1207.5H1211.11V1211.6H1207.01ZM1211.11 1206.8H1219.3V1211.6H1211.11ZM1219.3 1207.5H1224.1V1211.6H1219.3ZM1231.59 502.3H1252.08V506.4H1231.59ZM1231.59 859H1252.08V863.1H1231.59ZM1260.28 502.3H1280.77V506.4H1260.28ZM1260.28 859H1280.77V863.1H1260.28ZM1293.06 502.3H1309.45V506.4H1293.06ZM1293.06 859H1309.45V863.1H1293.06ZM1321.75 502.3H1342.23V506.4H1321.75ZM1321.75 859H1342.23V863.1H1321.75ZM1350.43 502.3H1370.92V506.4H1350.43ZM1350.43 859H1370.92V863.1H1350.43ZM1379.11 502.3H1399.6V506.4H1379.11ZM1379.11 859H1399.6V863.1H1379.11ZM1407.8 502.3H1428.29V506.4H1407.8ZM1407.8 859H1428.29V863.1H1407.8ZM1439.88 1207.5H1448.78V1211.6H1439.88ZM1440.58 502.3H1456.97V506.4H1440.58ZM1440.58 859H1456.97V863.1H1440.58ZM1448.78 1206.8H1453.58V1211.6H1448.78ZM1469.27 502.3H1489.76V506.4H1469.27ZM1469.27 859H1489.76V863.1H1469.27ZM1476.76 1207.5H1485.66V1211.6H1476.76ZM1485.66 1206.8H1490.46V1211.6H1485.66ZM1497.25 1206.8H1502.05V1211.6H1497.25ZM1497.95 502.3H1518.44V506.4H1497.95ZM1497.95 859H1518.44V863.1H1497.95ZM1502.05 1207.5H1506.15V1211.6H1502.05ZM1506.15 1206.8H1519.14V1211.6H1506.15ZM1526.64 502.3H1547.12V506.4H1526.64ZM1526.64 859H1547.12V863.1H1526.64ZM1555.32 859H1560.12V863.1H1555.32ZM1555.32 502.3H1575.81V506.4H1555.32ZM1558.72 1207.5H1567.61V1211.6H1558.72ZM1562.82 859H1575.81V863.1H1562.82ZM1567.61 1206.8H1571.71V1211.6H1567.61ZM1571.71 1207.5H1576.51V1211.6H1571.71ZM1587.4 1206.8H1592.9V1211.6H1587.4ZM1588.1 502.3H1604.49V506.4H1588.1ZM1588.1 859H1604.49V863.1H1588.1ZM1599.7 1207.5H1605.19V1211.6H1599.7ZM1616.09 1206.8H1620.89V1211.6H1616.09ZM1616.79 502.3H1637.28V506.4H1616.79ZM1616.79 859H1637.28V863.1H1616.79ZM1620.89 1207.5H1625.68V1211.6H1620.89ZM1645.47 502.3H1665.96V506.4H1645.47ZM1645.47 859H1665.96V863.1H1645.47ZM1674.16 502.3H1694.65V506.4H1674.16ZM1674.16 859H1694.65V863.1H1674.16ZM1681.65 1206.8H1695.35V1211.6H1681.65ZM1702.14 1206.8H1707.64V1211.6H1702.14ZM1702.84 502.3H1723.33V506.4H1702.84ZM1702.84 859H1723.33V863.1H1702.84ZM1735.62 502.3H1752.71V506.4H1735.62ZM1735.62 859H1752.01V863.1H1735.62ZM1763.61 1206.8H1768.41V1211.6H1763.61ZM1764.31 153.8H1784.8V157.9H1764.31ZM1764.31 502.3H1784.8V506.4H1764.31ZM1764.31 859H1784.8V863.1H1764.31ZM1768.41 1207.5H1772.5V1211.6H1768.41ZM1772.5 1206.8H1785.5V1211.6H1772.5ZM1792.29 1206.8H1801.19V1211.6H1792.29ZM1792.99 153.8H1813.48V157.9H1792.99ZM1792.99 502.3H1813.48V506.4H1792.99ZM1792.99 859H1813.48V863.1H1792.99ZM1801.19 1207.5H1805.29V1211.6H1801.19ZM1805.29 1206.8H1814.18V1211.6H1805.29ZM1821.68 153.8H1842.17V157.9H1821.68ZM1821.68 502.3H1842.17V506.4H1821.68ZM1821.68 859H1842.17V863.1H1821.68ZM1850.36 153.8H1870.85V157.9H1850.36ZM1850.36 502.3H1870.85V506.4H1850.36ZM1850.36 859H1870.85V863.1H1850.36ZM1853.76 1206.8H1863.36V1211.6H1853.76ZM1883.14 153.8H1899.54V157.9H1883.14ZM1883.14 502.3H1899.54V506.4H1883.14ZM1883.14 859H1899.54V863.1H1883.14ZM1894.74 1207.5H1900.24V1211.6H1894.74ZM1911.83 153.8H1932.32V157.9H1911.83ZM1911.83 502.3H1932.32V506.4H1911.83ZM1911.83 859H1932.32V863.1H1911.83ZM1919.32 1206.8H1928.92V1211.6H1919.32ZM1940.51 859H1945.31V863.1H1940.51ZM1940.51 153.8H1961V157.9H1940.51ZM1940.51 502.3H1961V506.4H1940.51ZM1948.01 859H1961V863.1H1948.01ZM1968.5 1206.8H1973.3V1211.6H1968.5ZM1969.2 153.8H1986.29V157.9H1969.2ZM1969.2 502.3H1986.29V506.4H1969.2ZM1969.2 859H1986.29V863.1H1969.2ZM1973.3 1207.5H1977.39V1211.6H1973.3ZM1977.39 1206.8H1986.29V1211.6H1977.39Z"/>
<path fill="#ff9c00" d="M1575.81 1174H1579.91V1178.8H1575.81ZM1575.81 1178.8H1584V1208.2H1575.81ZM1579.91 1174.7H1584.7V1178.8H1579.91ZM1607.89 1198.6H1616.79V1203.4H1607.89ZM1608.59 1203.4H1617.49V1208.2H1608.59ZM1673.46 1187H1678.25V1191.1H1673.46ZM1673.46 1182.9H1724.03V1187H1673.46ZM1678.25 1187H1724.03V1191.8H1678.25ZM1681.65 1199.3H1690.55V1203.4H1681.65ZM1682.35 1203.4H1691.25V1207.5H1682.35ZM1698.04 1203.4H1702.84V1208.2H1698.04ZM1698.74 1199.3H1707.64V1203.4H1698.74ZM1702.84 1203.4H1707.64V1207.5H1702.84ZM1747.92 1195.2H1752.01V1200H1747.92ZM1747.22 1191.1H1756.81V1195.2H1747.22ZM1752.01 1195.2H1756.11V1199.3H1752.01ZM1771.8 1182.2H1780.7V1187H1771.8ZM1772.5 1187H1781.4V1191.1H1772.5ZM1772.5 1191.1H1780.7V1195.2H1772.5ZM1772.5 1203.4H1784.8V1207.5H1772.5ZM1772.5 1195.2H1788.89V1203.4H1772.5ZM1780.7 1190.4H1788.89V1195.2H1780.7ZM1784.8 1203.4H1788.89V1208.2H1784.8ZM1804.59 1182.2H1809.38V1187H1804.59ZM1805.29 1187H1813.48V1207.5H1805.29ZM1809.38 1182.9H1813.48V1187H1809.38Z"/>
<path fill="#d2a254" d="M1525.94 1207.5H1559.42V1211.6H1525.94ZM1555.32 1190.4H1559.42V1207.5H1555.32ZM1559.42 1174.7H1563.52V1183.6H1559.42ZM1559.42 1170.6H1568.31V1174.7H1559.42ZM1567.61 1162.4H1571.71V1167.2H1567.61ZM1567.61 1190.4H1571.71V1207.5H1567.61ZM1571.71 1162.4H1576.51V1166.5H1571.71ZM1584 1165.8H1588.1V1175.4H1584ZM1583.3 1150.1H1752.01V1154.2H1583.3ZM1588.1 1182.2H1592.2V1207.5H1588.1ZM1592.2 1207.5H1600.4V1211.6H1592.2ZM1596.3 1203.4H1600.4V1207.5H1596.3ZM1596.3 1199.3H1604.49V1203.4H1596.3ZM1604.49 1198.6H1608.59V1203.4H1604.49ZM1607.89 1195.2H1617.49V1199.3H1607.89ZM1624.98 1207.5H1629.08V1211.6H1624.98ZM1624.28 1195.2H1637.28V1199.3H1624.28ZM1624.28 1187H1666.66V1191.1H1624.28ZM1629.08 1206.8H1641.37V1211.6H1629.08ZM1637.28 1195.2H1641.37V1200H1637.28ZM1640.67 1203.4H1650.27V1207.5H1640.67ZM1641.37 1207.5H1649.57V1211.6H1641.37ZM1649.57 1206.8H1653.67V1211.6H1649.57ZM1653.67 1207.5H1666.66V1211.6H1653.67ZM1665.96 1133H1670.06V1150.1H1665.96ZM1670.06 1203.4H1674.16V1208.2H1670.06ZM1670.06 1199.3H1682.35V1203.4H1670.06ZM1673.46 1207.5H1682.35V1211.6H1673.46ZM1673.46 1125.5H1731.53V1129.6H1673.46ZM1678.25 1195.2H1682.35V1199.3H1678.25ZM1678.25 1191.1H1707.64V1195.2H1678.25ZM1690.55 1203.4H1694.65V1207.5H1690.55ZM1694.65 1203.4H1698.74V1208.2H1694.65ZM1706.94 1198.6H1711.04V1207.5H1706.94ZM1706.94 1207.5H1735.62V1211.6H1706.94ZM1715.13 1199.3H1719.23V1207.5H1715.13ZM1714.43 1191.1H1723.33V1195.2H1714.43ZM1723.33 1190.4H1727.43V1195.2H1723.33ZM1723.33 1178.8H1731.53V1183.6H1723.33ZM1727.43 1191.1H1747.92V1195.2H1727.43ZM1731.53 1124.8H1735.62V1129.6H1731.53ZM1731.53 1178.8H1748.62V1182.9H1731.53ZM1730.83 1182.9H1747.92V1187H1730.83ZM1735.62 1206.8H1739.72V1211.6H1735.62ZM1735.62 1125.5H1801.19V1129.6H1735.62ZM1739.02 1203.4H1747.92V1207.5H1739.02ZM1739.72 1207.5H1748.62V1211.6H1739.72ZM1747.92 1154.2H1752.01V1175.4H1747.92ZM1747.92 1199.3H1752.01V1208.2H1747.92ZM1747.92 1182.2H1756.11V1187H1747.92ZM1756.11 1191.1H1764.31V1195.2H1756.11ZM1756.11 1182.9H1772.5V1187H1756.11ZM1755.41 1178.8H1780.7V1182.9H1755.41ZM1764.31 1198.6H1768.41V1207.5H1764.31ZM1780.7 1187H1788.89V1191.1H1780.7ZM1792.99 1178.8H1797.09V1182.9H1792.99ZM1792.99 1182.9H1797.79V1191.1H1792.99ZM1792.99 1191.1H1797.09V1195.2H1792.99ZM1792.99 1195.2H1801.19V1207.5H1792.99ZM1792.99 1174.7H1809.38V1178.8H1792.99ZM1797.09 1129.6H1801.19V1174.7H1797.09ZM1797.09 1190.4H1801.19V1195.2H1797.09ZM1805.29 1178.8H1809.38V1182.9H1805.29Z"/>
<path fill="#ea9c2a" d="M1559.42 1182.9H1563.52V1187H1559.42ZM1558.72 1187H1568.31V1191.1H1558.72ZM1567.61 1166.5H1571.71V1170.6H1567.61ZM1567.61 1170.6H1576.51V1174.7H1567.61ZM1575.81 1154.2H1579.91V1162.4H1575.81ZM1575.81 1150.1H1584V1154.2H1575.81ZM1575.81 1162.4H1584.7V1166.5H1575.81ZM1584 1174.7H1592.2V1178.8H1584ZM1588.1 1178.8H1592.2V1182.9H1588.1ZM1616.79 1195.2H1624.98V1199.3H1616.79ZM1620.89 1190.4H1624.98V1195.2H1620.89ZM1632.48 1203.4H1641.37V1207.5H1632.48ZM1637.28 1199.3H1641.37V1203.4H1637.28ZM1665.96 1129.6H1670.06V1133.7H1665.96ZM1665.96 1125.5H1674.16V1129.6H1665.96ZM1665.96 1187H1674.16V1191.1H1665.96ZM1670.06 1182.9H1674.16V1187H1670.06ZM1706.94 1195.2H1711.04V1199.3H1706.94ZM1706.94 1191.1H1715.13V1195.2H1706.94ZM1723.33 1187H1727.43V1191.1H1723.33ZM1723.33 1182.9H1731.53V1187H1723.33ZM1747.92 1174.7H1752.01V1178.8H1747.92ZM1747.92 1178.8H1756.11V1182.9H1747.92ZM1797.09 1187H1801.19V1191.1H1797.09ZM1797.09 1182.9H1805.29V1187H1797.09Z"/>
<path fill="#baa27e" d="M1555.32 1187H1559.42V1191.1H1555.32ZM1567.61 1187H1571.71V1191.1H1567.61ZM1575.81 1170.6H1579.91V1174.7H1575.81ZM1584 1162.4H1588.1V1166.5H1584ZM1604.49 1195.2H1608.59V1199.3H1604.49ZM1611.99 1207.5H1616.79V1211.6H1611.99ZM1616.79 1203.4H1620.89V1207.5H1616.79ZM1620.89 1187H1624.98V1191.1H1620.89ZM1629.08 1203.4H1633.18V1207.5H1629.08ZM1649.57 1203.4H1653.67V1207.5H1649.57ZM1669.36 1207.5H1674.16V1211.6H1669.36ZM1735.62 1203.4H1739.72V1207.5H1735.62ZM1747.92 1207.5H1752.71V1211.6H1747.92ZM1764.31 1195.2H1768.41V1199.3H1764.31Z"/>
<path fill="#90a890" d="M998.02 1129.6H1002.82V1134.4H998.02ZM1009.61 1146H1014.41V1150.8H1009.61ZM1022.61 1195.2H1027.4V1200H1022.61ZM1042.4 1207.5H1047.89V1211.6H1042.4ZM1096.37 1195.2H1101.16V1200H1096.37ZM1120.95 1203.4H1125.75V1208.2H1120.95ZM1161.93 1207.5H1166.73V1211.6H1161.93ZM1170.13 1154.2H1174.92V1159H1170.13ZM1189.92 1203.4H1194.71V1207.5H1189.92ZM1189.92 1207.5H1195.41V1211.6H1189.92ZM1214.5 1170.6H1219.3V1175.4H1214.5ZM1227.5 1203.4H1232.29V1208.2H1227.5ZM1247.29 1154.2H1252.08V1159H1247.29ZM1259.58 1206.8H1265.08V1211.6H1259.58ZM1263.68 1195.2H1268.47V1200H1263.68ZM1280.07 1203.4H1284.87V1208.2H1280.07ZM1325.84 1195.2H1330.64V1200H1325.84ZM1337.44 1203.4H1342.23V1208.2H1337.44ZM1375.02 1154.2H1379.81V1159H1375.02ZM1374.32 1207.5H1379.81V1211.6H1374.32ZM1391.41 1195.2H1396.21V1200H1391.41ZM1394.81 1206.8H1400.3V1211.6H1394.81ZM1411.2 1187H1415.99V1191.8H1411.2ZM1424.19 1203.4H1428.99V1208.2H1424.19ZM1427.59 1195.2H1432.39V1200H1427.59ZM1448.78 1203.4H1453.58V1207.5H1448.78ZM1468.57 1154.2H1473.36V1159H1468.57ZM1506.15 1154.2H1510.94V1159H1506.15Z"/>
<path fill="#7eb47e" d="M977.53 1158.3H981.63V1175.4H977.53ZM977.53 1154.2H986.43V1158.3H977.53ZM985.73 1146H989.82V1150.8H985.73ZM985.03 1182.9H989.82V1187H985.03ZM985.73 1187H989.82V1191.1H985.73ZM985.03 1191.1H989.82V1208.2H985.03ZM989.82 1146H994.62V1150.1H989.82ZM993.22 1154.2H1002.12V1158.3H993.22ZM998.02 1133.7H1002.12V1142.6H998.02ZM998.02 1158.3H1002.12V1167.2H998.02ZM1001.42 1146H1010.31V1150.1H1001.42ZM1002.12 1129.6H1265.08V1133.7H1002.12ZM1006.22 1195.2H1010.31V1199.3H1006.22ZM1006.22 1199.3H1011.01V1207.5H1006.22ZM1006.22 1166.5H1014.41V1195.2H1006.22ZM1010.31 1150.1H1014.41V1166.5H1010.31ZM1010.31 1195.2H1014.41V1200H1010.31ZM1017.81 1199.3H1027.4V1203.4H1017.81ZM1018.51 1207.5H1030.8V1211.6H1018.51ZM1026.7 1195.2H1034.9V1200H1026.7ZM1030.8 1206.8H1034.9V1211.6H1030.8ZM1034.9 1195.2H1043.8V1199.3H1034.9ZM1034.9 1207.5H1043.1V1211.6H1034.9ZM1047.19 1198.6H1051.29V1208.2H1047.19ZM1050.59 1182.9H1059.49V1187H1050.59ZM1050.59 1195.2H1059.49V1199.3H1050.59ZM1051.29 1199.3H1071.78V1203.4H1051.29ZM1059.49 1182.2H1063.58V1187H1059.49ZM1059.49 1207.5H1076.58V1211.6H1059.49ZM1063.58 1182.9H1088.17V1187H1063.58ZM1067.68 1203.4H1071.78V1207.5H1067.68ZM1066.98 1174.7H1166.03V1178.8H1066.98ZM1084.07 1187H1088.17V1200H1084.07ZM1083.37 1206.8H1092.27V1211.6H1083.37ZM1092.27 1207.5H1109.36V1211.6H1092.27ZM1091.57 1199.3H1112.76V1203.4H1091.57ZM1100.46 1195.2H1125.05V1199.3H1100.46ZM1108.66 1203.4H1112.76V1208.2H1108.66ZM1116.86 1207.5H1125.05V1211.6H1116.86ZM1125.05 1195.2H1133.95V1200H1125.05ZM1125.05 1206.8H1133.95V1211.6H1125.05ZM1125.05 1170.6H1166.73V1174.7H1125.05ZM1153.74 1198.6H1157.83V1203.4H1153.74ZM1153.74 1203.4H1161.93V1207.5H1153.74ZM1157.83 1199.3H1161.93V1203.4H1157.83ZM1157.13 1191.1H1186.52V1195.2H1157.13ZM1161.93 1187H1166.03V1191.1H1161.93ZM1161.93 1182.9H1194.71V1187H1161.93ZM1166.03 1174H1174.22V1178.8H1166.03ZM1166.03 1207.5H1182.42V1211.6H1166.03ZM1170.13 1158.3H1174.22V1167.2H1170.13ZM1174.22 1203.4H1183.12V1207.5H1174.22ZM1173.52 1170.6H1190.62V1174.7H1173.52ZM1174.22 1174.7H1191.32V1178.8H1174.22ZM1174.22 1154.2H1207.71V1158.3H1174.22ZM1182.42 1195.2H1186.52V1200H1182.42ZM1182.42 1206.8H1190.62V1211.6H1182.42ZM1190.62 1170.6H1198.81V1175.4H1190.62ZM1194.71 1182.2H1199.51V1187H1194.71ZM1198.81 1170.6H1215.2V1174.7H1198.81ZM1211.11 1133.7H1215.2V1150.8H1211.11ZM1211.11 1174.7H1219.3V1207.5H1211.11ZM1214.5 1154.2H1247.99V1158.3H1214.5ZM1223.4 1207.5H1231.59V1211.6H1223.4ZM1231.59 1195.2H1235.69V1200H1231.59ZM1231.59 1206.8H1239.79V1211.6H1231.59ZM1235.69 1195.2H1248.69V1199.3H1235.69ZM1239.79 1207.5H1256.88V1211.6H1239.79ZM1247.99 1158.3H1252.08V1191.8H1247.99ZM1247.99 1203.4H1256.18V1207.5H1247.99ZM1256.18 1203.4H1260.28V1208.2H1256.18ZM1255.48 1195.2H1264.38V1199.3H1255.48ZM1260.28 1203.4H1265.08V1207.5H1260.28ZM1264.38 1075.6H1268.47V1126.2H1264.38ZM1264.38 1206.8H1272.57V1211.6H1264.38ZM1271.87 1203.4H1280.77V1207.5H1271.87ZM1272.57 1207.5H1321.75V1211.6H1272.57ZM1271.87 1068.1H1387.31V1072.2H1271.87ZM1271.87 1129.6H1428.29V1133.7H1271.87ZM1313.55 1203.4H1322.45V1207.5H1313.55ZM1321.75 1206.8H1329.94V1211.6H1321.75ZM1329.94 1195.2H1338.84V1199.3H1329.94ZM1329.24 1203.4H1338.14V1207.5H1329.24ZM1329.94 1207.5H1371.62V1211.6H1329.94ZM1338.14 1187H1342.23V1191.8H1338.14ZM1342.23 1187H1371.62V1191.1H1342.23ZM1345.63 1195.2H1362.72V1199.3H1345.63ZM1358.63 1199.3H1362.72V1207.5H1358.63ZM1375.02 1158.3H1379.11V1183.6H1375.02ZM1379.11 1203.4H1388.01V1207.5H1379.11ZM1379.11 1207.5H1387.31V1211.6H1379.11ZM1378.41 1187H1411.9V1191.1H1378.41ZM1379.11 1154.2H1420.79V1158.3H1379.11ZM1387.31 1067.4H1391.41V1072.2H1387.31ZM1387.31 1206.8H1395.51V1211.6H1387.31ZM1391.41 1068.1H1514.34V1072.2H1391.41ZM1394.81 1203.4H1399.6V1207.5H1394.81ZM1395.51 1195.2H1412.6V1199.3H1395.51ZM1399.6 1203.4H1403.7V1208.2H1399.6ZM1403.7 1203.4H1411.9V1207.5H1403.7ZM1403 1207.5H1428.99V1211.6H1403ZM1419.39 1195.2H1428.29V1199.3H1419.39ZM1424.19 1133.7H1428.29V1150.8H1424.19ZM1427.59 1154.2H1469.27V1158.3H1427.59ZM1452.88 1206.8H1469.27V1211.6H1452.88ZM1469.27 1158.3H1473.36V1199.3H1469.27ZM1469.27 1207.5H1477.46V1211.6H1469.27ZM1468.57 1199.3H1489.76V1203.4H1468.57ZM1485.66 1203.4H1489.76V1207.5H1485.66ZM1493.85 1141.2H1497.95V1175.4H1493.85ZM1502.05 1125.5H1506.15V1133.7H1502.05ZM1502.05 1121.4H1510.94V1125.5H1502.05ZM1501.35 1133.7H1514.34V1137.8H1501.35ZM1506.15 1158.3H1510.24V1175.4H1506.15ZM1506.15 1182.2H1510.94V1207.5H1506.15ZM1510.24 1072.2H1514.34V1118H1510.24ZM1510.24 1137.8H1514.34V1150.8H1510.24ZM1514.34 1157.6H1518.44V1175.4H1514.34ZM1517.74 1121.4H1526.64V1125.5H1517.74ZM1522.54 1125.5H1526.64V1208.2H1522.54Z"/>
<path fill="#6cc06c" d="M977.53 1174.7H981.63V1178.8H977.53ZM976.83 1187H981.63V1191.8H976.83ZM976.83 1178.8H985.73V1187H976.83ZM985.73 1150.1H989.82V1154.2H985.73ZM985.73 1154.2H993.92V1158.3H985.73ZM993.92 1146H1002.12V1150.1H993.92ZM993.92 1170.6H1002.12V1175.4H993.92ZM998.02 1141.9H1002.12V1146H998.02ZM998.02 1166.5H1002.12V1170.6H998.02ZM1026.7 1199.3H1034.9V1203.4H1026.7ZM1030.8 1203.4H1034.9V1207.5H1030.8ZM1043.1 1187H1047.19V1195.2H1043.1ZM1043.1 1182.9H1051.29V1187H1043.1ZM1043.1 1195.2H1051.29V1199.3H1043.1ZM1059.49 1178.8H1063.58V1182.9H1059.49ZM1059.49 1174.7H1067.68V1178.8H1059.49ZM1166.03 1170.6H1174.22V1174.7H1166.03ZM1170.13 1166.5H1174.22V1170.6H1170.13ZM1182.42 1199.3H1186.52V1203.4H1182.42ZM1182.42 1203.4H1190.62V1207.5H1182.42ZM1190.62 1174.7H1198.81V1178.8H1190.62ZM1194.71 1178.8H1198.81V1182.9H1194.71ZM1207.01 1154.2H1215.2V1158.3H1207.01ZM1211.11 1150.1H1215.2V1154.2H1211.11ZM1231.59 1199.3H1235.69V1203.4H1231.59ZM1231.59 1203.4H1239.79V1207.5H1231.59ZM1247.99 1191.1H1252.08V1195.2H1247.99ZM1247.99 1195.2H1256.18V1199.3H1247.99ZM1264.38 1072.2H1268.47V1076.3H1264.38ZM1264.38 1125.5H1268.47V1129.6H1264.38ZM1264.38 1068.1H1272.57V1072.2H1264.38ZM1264.38 1129.6H1272.57V1133.7H1264.38ZM1321.75 1203.4H1329.94V1207.5H1321.75ZM1325.84 1199.3H1329.94V1203.4H1325.84ZM1338.14 1191.1H1342.23V1195.2H1338.14ZM1338.14 1195.2H1346.33V1199.3H1338.14ZM1370.92 1187H1379.11V1191.1H1370.92ZM1375.02 1182.9H1379.11V1187H1375.02ZM1387.31 1203.4H1395.51V1207.5H1387.31ZM1391.41 1199.3H1395.51V1203.4H1391.41ZM1411.9 1191.1H1415.99V1195.2H1411.9ZM1411.9 1195.2H1420.09V1199.3H1411.9ZM1420.09 1154.2H1428.29V1158.3H1420.09ZM1424.19 1150.1H1428.29V1154.2H1424.19ZM1428.29 1199.3H1432.39V1203.4H1428.29ZM1428.29 1203.4H1436.48V1208.2H1428.29ZM1493.85 1137.8H1497.95V1141.9H1493.85ZM1493.85 1174.7H1497.95V1178.8H1493.85ZM1493.85 1133.7H1502.05V1137.8H1493.85ZM1493.85 1178.8H1502.75V1183.6H1493.85ZM1510.24 1117.3H1514.34V1121.4H1510.24ZM1510.24 1150.1H1514.34V1154.2H1510.24ZM1510.24 1121.4H1518.44V1125.5H1510.24ZM1510.24 1154.2H1518.44V1158.3H1510.24Z"/>
<path fill="#e48466" d="M972.73 1178.8H977.53V1183.6H972.73Z"/>
<path fill="#60c660" d="M976.83 1191.1H985.73V1207.5H976.83ZM993.92 1203.4H998.02V1208.2H993.92ZM993.92 1174.7H1002.12V1203.4H993.92ZM998.02 1203.4H1002.12V1207.5H998.02ZM1010.31 1199.3H1018.51V1207.5H1010.31ZM1084.07 1199.3H1092.27V1207.5H1084.07ZM1125.05 1203.4H1133.25V1207.5H1125.05ZM1125.05 1199.3H1149.64V1203.4H1125.05ZM1133.25 1203.4H1145.54V1208.2H1133.25ZM1133.25 1191.1H1157.83V1199.3H1133.25ZM1145.54 1203.4H1149.64V1207.5H1145.54ZM1198.81 1203.4H1202.91V1208.2H1198.81ZM1198.81 1182.9H1207.01V1203.4H1198.81ZM1202.91 1203.4H1207.01V1207.5H1202.91ZM1264.38 1199.3H1272.57V1207.5H1264.38ZM1452.88 1199.3H1469.27V1207.5H1452.88ZM1493.85 1203.4H1497.95V1208.2H1493.85ZM1493.85 1182.9H1502.05V1203.4H1493.85ZM1497.95 1203.4H1502.05V1207.5H1497.95ZM1502.05 1174.7H1518.44V1182.9H1502.05ZM1510.24 1182.9H1518.44V1207.5H1510.24Z"/>
<path fill="#d88a5a" d="M972.73 1182.9H977.53V1207.5H972.73Z"/>
<path fill="#783c3c" d="M292.5 1203.4H298V1207.5H292.5ZM292.5 1207.5H297.3V1211.6H292.5ZM305.49 1206.8H310.29V1211.6H305.49ZM317.08 1207.5H321.88V1211.6H317.08ZM321.88 1206.8H325.98V1211.6H321.88ZM341.67 1207.5H346.47V1211.6H341.67ZM350.57 1207.5H354.66V1211.6H350.57ZM375.15 1195.2H379.95V1200H375.15ZM431.82 1207.5H437.32V1211.6H431.82ZM448.91 1137.8H453.71V1142.6H448.91ZM465.31 1170.6H470.1V1175.4H465.31ZM485.09 1154.2H489.89V1159H485.09ZM501.49 1170.6H506.28V1175.4H501.49ZM514.48 1207.5H519.28V1211.6H514.48ZM522.67 1203.4H527.47V1208.2H522.67ZM539.07 1105H543.86V1109.8H539.07ZM563.65 1207.5H567.75V1211.6H563.65ZM567.75 1206.8H571.85V1211.6H567.75ZM596.44 1203.4H601.23V1208.2H596.44ZM604.63 1162.4H609.43V1167.2H604.63ZM612.13 1206.8H617.62V1211.6H612.13ZM632.62 1137.8H637.41V1142.6H632.62ZM662 1170.6H666.8V1175.4H662ZM665.4 1162.4H670.2V1167.2H665.4ZM681.79 1207.5H686.59V1211.6H681.79ZM694.08 1207.5H699.58V1211.6H694.08ZM714.57 1203.4H719.37V1211.6H714.57ZM730.96 1203.4H735.76V1207.5H730.96ZM760.35 1195.2H765.14V1200H760.35ZM771.94 1195.2H776.74V1200H771.94ZM776.74 1206.8H781.54V1211.6H776.74ZM780.14 1162.4H784.93V1167.2H780.14ZM793.13 1146H797.93V1150.8H793.13ZM817.72 1203.4H822.51V1208.2H817.72ZM825.91 1187H830.71V1191.8H825.91ZM829.31 1195.2H834.11V1200H829.31ZM834.11 1207.5H838.21V1211.6H834.11ZM838.21 1206.8H843V1211.6H838.21ZM842.3 1195.2H847.1V1200H842.3ZM845.7 1203.4H850.5V1208.2H845.7ZM854.6 1206.8H858.69V1211.6H854.6ZM866.89 1170.6H871.69V1175.4H866.89ZM866.89 1207.5H871.69V1211.6H866.89ZM875.09 1203.4H879.88V1208.2H875.09ZM883.28 1162.4H888.08V1167.2H883.28ZM894.87 1170.6H899.67V1175.4H894.87ZM899.67 1207.5H904.47V1211.6H899.67ZM916.06 1207.5H920.86V1211.6H916.06Z"/>
<path fill="#ff0000" d="M329.38 1195.2H346.47V1199.3H329.38ZM329.38 1190.4H355.36V1195.2H329.38ZM346.47 1195.2H355.36V1200H346.47ZM353.96 1187H362.86V1191.8H353.96ZM353.96 1182.9H371.76V1187H353.96ZM362.86 1203.4H366.96V1207.5H362.86ZM362.86 1187H371.06V1191.1H362.86ZM362.16 1191.1H371.06V1195.2H362.16ZM362.86 1195.2H371.06V1203.4H362.86ZM366.96 1203.4H371.06V1208.2H366.96ZM387.45 1198.6H391.55V1203.4H387.45ZM387.45 1203.4H395.64V1208.2H387.45ZM391.55 1199.3H396.34V1203.4H391.55ZM460.51 1191.1H465.31V1195.2H460.51ZM461.21 1203.4H465.31V1208.2H461.21ZM461.21 1195.2H470.1V1199.3H461.21ZM460.51 1199.3H470.1V1203.4H460.51ZM465.31 1190.4H470.1V1195.2H465.31ZM465.31 1203.4H470.1V1207.5H465.31ZM477.6 1198.6H485.79V1207.5H477.6ZM493.99 1174H502.89V1178.8H493.99ZM493.29 1178.8H502.89V1207.5H493.29ZM567.05 1191.1H575.95V1195.2H567.05ZM567.75 1195.2H575.95V1207.5H567.75ZM608.03 1203.4H612.83V1208.2H608.03ZM608.73 1199.3H616.92V1203.4H608.73ZM612.83 1203.4H616.92V1207.5H612.83ZM616.92 1178.8H621.02V1183.6H616.92ZM616.92 1198.6H621.02V1203.4H616.92ZM616.92 1203.4H625.12V1208.2H616.92ZM616.22 1174.7H642.21V1178.8H616.22ZM621.02 1199.3H625.82V1203.4H621.02ZM621.02 1178.8H637.41V1182.9H621.02ZM637.41 1178.8H641.51V1183.6H637.41ZM640.81 1198.6H650.41V1207.5H640.81ZM657.2 1182.9H662V1187H657.2ZM657.9 1203.4H662V1207.5H657.9ZM657.9 1187H666.8V1203.4H657.9ZM662 1182.2H666.8V1187H662ZM662 1203.4H666.8V1208.2H662ZM747.35 1195.2H752.15V1199.3H747.35ZM747.35 1191.1H756.25V1195.2H747.35ZM752.15 1195.2H756.25V1200H752.15ZM772.64 1174.7H781.54V1178.8H772.64ZM771.94 1178.8H781.54V1182.9H771.94ZM797.23 1166.5H801.33V1170.6H797.23ZM797.23 1170.6H805.42V1207.5H797.23ZM801.33 1165.8H805.42V1170.6H801.33ZM845.7 1187H850.5V1191.1H845.7ZM846.4 1182.9H863.49V1187H846.4ZM850.5 1187H854.6V1191.8H850.5ZM854.6 1187H862.79V1191.1H854.6ZM853.9 1191.1H863.49V1195.2H853.9ZM853.9 1195.2H862.79V1200H853.9ZM944.75 1157.6H952.94V1207.5H944.75Z"/>
<path fill="#963018" d="M969.33 1174H973.43V1183.6H969.33Z"/>
<path fill="#a82424" d="M309.59 1195.2H313.69V1200H309.59ZM309.59 1191.1H322.58V1195.2H309.59ZM312.99 1199.3H317.78V1203.4H312.99ZM313.69 1203.4H317.78V1208.2H313.69ZM329.38 1203.4H338.27V1207.5H329.38ZM330.08 1207.5H338.97V1211.6H330.08ZM330.08 1187H347.17V1191.1H330.08ZM353.96 1198.6H358.76V1203.4H353.96ZM354.66 1203.4H358.76V1207.5H354.66ZM371.06 1174H375.15V1182.9H371.06ZM371.06 1182.9H388.15V1187H371.06ZM375.15 1199.3H379.25V1208.2H375.15ZM379.25 1198.6H383.35V1207.5H379.25ZM378.55 1166.5H453.71V1170.6H378.55ZM387.45 1207.5H396.34V1211.6H387.45ZM403.14 1207.5H420.23V1211.6H403.14ZM403.14 1191.1H424.33V1195.2H403.14ZM412.03 1158.3H416.13V1166.5H412.03ZM412.03 1203.4H420.93V1207.5H412.03ZM412.03 1154.2H445.52V1158.3H412.03ZM420.23 1195.2H424.33V1200H420.23ZM436.62 1207.5H444.82V1211.6H436.62ZM440.72 1203.4H444.82V1207.5H440.72ZM440.72 1199.3H461.21V1203.4H440.72ZM448.91 1141.9H453.01V1150.8H448.91ZM448.91 1195.2H453.01V1199.3H448.91ZM448.91 1191.1H461.21V1195.2H448.91ZM452.31 1154.2H485.79V1158.3H452.31ZM453.01 1137.8H535.67V1141.9H453.01ZM457.11 1174H461.21V1191.1H457.11ZM465.31 1174.7H469.4V1178.8H465.31ZM465.31 1182.9H473.5V1191.1H465.31ZM465.31 1178.8H489.89V1182.9H465.31ZM469.4 1191.1H473.5V1207.5H469.4ZM469.4 1170.6H486.49V1174.7H469.4ZM485.79 1158.3H489.89V1167.2H485.79ZM489.89 1178.8H493.99V1183.6H489.89ZM489.89 1198.6H493.99V1208.2H489.89ZM493.29 1170.6H502.19V1174.7H493.29ZM502.19 1182.2H506.28V1207.5H502.19ZM509.68 1174.7H514.48V1178.8H509.68ZM510.38 1178.8H514.48V1207.5H510.38ZM518.58 1207.5H526.77V1211.6H518.58ZM526.77 1203.4H535.67V1207.5H526.77ZM539.07 1109.1H543.16V1134.4H539.07ZM539.07 1195.2H543.16V1200H539.07ZM539.07 1191.1H567.75V1195.2H539.07ZM543.16 1207.5H547.26V1211.6H543.16ZM542.46 1137.8H633.32V1141.9H542.46ZM543.16 1105H658.6V1109.1H543.16ZM547.26 1206.8H551.36V1211.6H547.26ZM551.36 1207.5H559.55V1211.6H551.36ZM563.65 1178.8H567.75V1191.1H563.65ZM563.65 1174.7H616.92V1178.8H563.65ZM583.44 1207.5H609.43V1211.6H583.44ZM600.53 1203.4H608.73V1207.5H600.53ZM604.63 1166.5H608.73V1174.7H604.63ZM608.73 1162.4H634.02V1166.5H608.73ZM616.92 1182.9H621.02V1199.3H616.92ZM616.92 1207.5H625.12V1211.6H616.92ZM633.32 1141.9H637.41V1159H633.32ZM637.41 1182.9H641.51V1195.2H637.41ZM637.41 1195.2H642.21V1199.3H637.41ZM637.41 1199.3H641.51V1208.2H637.41ZM641.51 1174.7H653.8V1178.8H641.51ZM640.81 1162.4H666.1V1166.5H640.81ZM645.61 1187H649.71V1191.8H645.61ZM645.61 1182.9H657.9V1187H645.61ZM649.71 1178.8H653.8V1182.9H649.71ZM649.71 1199.3H653.8V1207.5H649.71ZM657.9 1051.7H662V1101.6H657.9ZM657.9 1047.6H805.42V1051.7H657.9ZM662 1174.7H670.2V1182.9H662ZM666.1 1166.5H670.2V1174.7H666.1ZM666.1 1182.9H670.2V1208.2H666.1ZM665.4 1105H780.84V1109.1H665.4ZM673.59 1207.5H682.49V1211.6H673.59ZM678.39 1195.2H682.49V1207.5H678.39ZM678.39 1191.1H707.78V1195.2H678.39ZM698.88 1203.4H702.98V1208.2H698.88ZM702.98 1203.4H707.78V1207.5H702.98ZM707.08 1206.8H715.27V1211.6H707.08ZM715.27 1166.5H719.37V1191.1H715.27ZM714.57 1191.1H724.17V1195.2H714.57ZM715.27 1162.4H748.75V1166.5H715.27ZM727.56 1198.6H731.66V1208.2H727.56ZM730.96 1191.1H740.56V1195.2H730.96ZM748.05 1124.8H752.15V1159H748.05ZM755.55 1162.4H780.84V1166.5H755.55ZM755.55 1117.3H809.52V1121.4H755.55ZM760.35 1199.3H764.44V1203.4H760.35ZM760.35 1203.4H773.34V1207.5H760.35ZM764.44 1182.9H768.54V1191.8H764.44ZM764.44 1178.8H772.64V1182.9H764.44ZM776.74 1109.1H780.84V1117.3H776.74ZM780.84 1166.5H784.93V1175.4H780.84ZM780.84 1182.2H784.93V1203.4H780.84ZM780.14 1203.4H784.93V1208.2H780.14ZM789.03 1165.8H793.13V1174.7H789.03ZM788.33 1174.7H793.13V1178.8H788.33ZM789.03 1178.8H793.13V1207.5H789.03ZM793.13 1150.1H797.23V1159H793.13ZM797.23 1133H801.33V1142.6H797.23ZM801.33 1149.4H805.42V1166.5H801.33ZM805.42 1046.9H809.52V1051.7H805.42ZM805.42 1121.4H809.52V1126.2H805.42ZM809.52 1133H813.62V1208.2H809.52ZM809.52 1047.6H952.94V1051.7H809.52ZM812.92 1207.5H821.81V1211.6H812.92ZM830.01 1199.3H834.11V1203.4H830.01ZM829.31 1203.4H834.11V1207.5H829.31ZM830.01 1187H846.4V1191.1H830.01ZM862.09 1199.3H866.89V1203.4H862.09ZM862.79 1203.4H866.89V1207.5H862.79ZM862.79 1191.1H883.28V1195.2H862.79ZM862.79 1182.9H888.08V1187H862.79ZM866.89 1174.7H870.99V1182.9H866.89ZM870.99 1170.6H879.88V1174.7H870.99ZM870.99 1207.5H879.18V1211.6H870.99ZM879.18 1195.2H883.28V1200H879.18ZM886.68 1170.6H895.57V1174.7H886.68ZM887.38 1162.4H904.47V1166.5H887.38ZM891.48 1190.4H895.57V1195.2H891.48ZM891.48 1195.2H899.67V1207.5H891.48ZM895.57 1174.7H899.67V1182.9H895.57ZM894.87 1182.9H899.67V1191.1H894.87ZM895.57 1191.1H899.67V1195.2H895.57ZM903.77 1154.2H907.87V1159H903.77ZM903.77 1206.8H907.87V1211.6H903.77ZM907.87 1207.5H911.97V1211.6H907.87ZM907.87 1154.2H937.25V1158.3H907.87ZM911.97 1191.1H916.06V1199.3H911.97ZM911.97 1187H920.86V1191.1H911.97ZM911.27 1199.3H924.26V1203.4H911.27ZM911.27 1162.4H936.55V1166.5H911.27ZM920.16 1203.4H924.26V1207.5H920.16ZM920.16 1207.5H929.06V1211.6H920.16ZM924.26 1170.6H928.36V1183.6H924.26ZM924.26 1166.5H940.65V1170.6H924.26ZM927.66 1187H940.65V1191.1H927.66ZM936.55 1170.6H940.65V1187H936.55ZM936.55 1191.1H940.65V1207.5H936.55ZM944.05 1154.2H952.94V1158.3H944.05ZM944.05 1141.9H965.24V1146H944.05ZM948.85 1051.7H952.94V1141.9H948.85ZM957.04 1170.6H961.14V1182.9H957.04ZM957.04 1182.9H965.24V1208.2H957.04ZM957.04 1166.5H973.43V1170.6H957.04ZM961.14 1146H965.24V1166.5H961.14ZM969.33 1170.6H973.43V1174.7H969.33Z"/>
<path fill="#d21212" d="M297.3 1203.4H309.59V1207.5H297.3ZM301.39 1199.3H313.69V1203.4H301.39ZM321.88 1191.1H330.08V1195.2H321.88ZM321.88 1203.4H330.08V1207.5H321.88ZM325.98 1195.2H330.08V1203.4H325.98ZM346.47 1203.4H350.57V1207.5H346.47ZM346.47 1187H354.66V1191.1H346.47ZM346.47 1199.3H354.66V1203.4H346.47ZM350.57 1182.9H354.66V1187H350.57ZM354.66 1195.2H358.76V1199.3H354.66ZM354.66 1191.1H362.86V1195.2H354.66ZM371.06 1170.6H375.15V1174.7H371.06ZM371.06 1166.5H379.25V1170.6H371.06ZM379.25 1195.2H391.55V1199.3H379.25ZM383.35 1191.1H403.84V1195.2H383.35ZM387.45 1182.9H395.64V1187H387.45ZM391.55 1187H395.64V1191.1H391.55ZM395.64 1195.2H399.74V1199.3H395.64ZM395.64 1199.3H403.84V1203.4H395.64ZM399.74 1203.4H403.84V1208.2H399.74ZM420.23 1199.3H424.33V1203.4H420.23ZM420.23 1203.4H428.43V1207.5H420.23ZM444.82 1154.2H453.01V1158.3H444.82ZM448.91 1150.1H453.01V1154.2H448.91ZM453.01 1166.5H461.21V1170.6H453.01ZM457.11 1170.6H461.21V1174.7H457.11ZM477.6 1195.2H485.79V1199.3H477.6ZM481.7 1191.1H493.99V1195.2H481.7ZM485.79 1166.5H489.89V1170.6H485.79ZM485.79 1170.6H493.99V1174.7H485.79ZM485.79 1187H493.99V1191.1H485.79ZM489.89 1182.9H493.99V1187H489.89ZM489.89 1195.2H493.99V1199.3H489.89ZM502.19 1178.8H506.28V1182.9H502.19ZM502.19 1174.7H510.38V1178.8H502.19ZM534.97 1203.4H539.07V1207.5H534.97ZM534.97 1137.8H543.16V1141.9H534.97ZM534.97 1199.3H551.36V1203.4H534.97ZM539.07 1133.7H543.16V1137.8H539.07ZM547.26 1203.4H551.36V1207.5H547.26ZM625.12 1199.3H633.32V1203.4H625.12ZM629.22 1203.4H633.32V1207.5H629.22ZM633.32 1158.3H637.41V1162.4H633.32ZM633.32 1162.4H641.51V1166.5H633.32ZM641.51 1195.2H649.71V1199.3H641.51ZM645.61 1191.1H649.71V1195.2H645.61ZM657.9 1100.9H662V1105H657.9ZM657.9 1105H666.1V1109.1H657.9ZM707.08 1195.2H711.17V1203.4H707.08ZM707.08 1191.1H715.27V1195.2H707.08ZM707.08 1203.4H715.27V1207.5H707.08ZM723.47 1191.1H731.66V1195.2H723.47ZM727.56 1195.2H731.66V1199.3H727.56ZM739.86 1191.1H748.05V1195.2H739.86ZM739.86 1203.4H752.15V1207.5H739.86ZM743.96 1195.2H748.05V1203.4H743.96ZM748.05 1121.4H752.15V1125.5H748.05ZM748.05 1158.3H752.15V1162.4H748.05ZM748.05 1117.3H756.25V1121.4H748.05ZM748.05 1162.4H756.25V1166.5H748.05ZM752.15 1199.3H756.25V1208.2H752.15ZM764.44 1191.1H768.54V1195.2H764.44ZM764.44 1195.2H772.64V1199.3H764.44ZM772.64 1199.3H776.74V1203.4H772.64ZM772.64 1203.4H780.84V1207.5H772.64ZM780.84 1178.8H784.93V1182.9H780.84ZM780.84 1174.7H789.03V1178.8H780.84ZM789.03 1162.4H797.23V1166.5H789.03ZM793.13 1158.3H797.23V1162.4H793.13ZM797.23 1129.6H801.33V1133.7H797.23ZM797.23 1141.9H801.33V1146H797.23ZM797.23 1146H805.42V1150.1H797.23ZM797.23 1125.5H813.62V1129.6H797.23ZM809.52 1129.6H813.62V1133.7H809.52ZM821.81 1199.3H825.91V1203.4H821.81ZM821.81 1195.2H830.01V1199.3H821.81ZM821.81 1203.4H830.01V1207.5H821.81ZM825.91 1191.1H830.01V1195.2H825.91ZM838.21 1203.4H842.3V1207.5H838.21ZM842.3 1199.3H846.4V1208.2H842.3ZM846.4 1195.2H854.6V1199.3H846.4ZM850.5 1191.1H854.6V1195.2H850.5ZM854.6 1203.4H858.69V1207.5H854.6ZM854.6 1199.3H862.79V1203.4H854.6ZM879.18 1199.3H883.28V1203.4H879.18ZM879.18 1170.6H887.38V1174.7H879.18ZM879.18 1203.4H887.38V1207.5H879.18ZM883.28 1166.5H887.38V1170.6H883.28ZM887.38 1182.9H895.57V1187H887.38ZM891.48 1187H895.57V1191.1H891.48ZM903.77 1158.3H907.87V1162.4H903.77ZM903.77 1203.4H907.87V1207.5H903.77ZM903.77 1162.4H911.97V1166.5H903.77ZM903.77 1199.3H911.97V1203.4H903.77ZM920.16 1187H928.36V1191.1H920.16ZM924.26 1182.9H928.36V1187H924.26ZM936.55 1146H940.65V1154.2H936.55ZM936.55 1141.9H944.75V1146H936.55ZM936.55 1154.2H944.75V1158.3H936.55Z"/>
<path fill="#843c06" d="M969.33 1182.9H973.43V1207.5H969.33Z"/>
<path fill="#181854" d="M1829.17 1207.5H1833.97V1211.6H1829.17ZM1842.17 1207.5H1846.96V1211.6H1842.17ZM1862.66 1206.8H1866.75V1211.6H1862.66ZM1866.75 1162.4H1871.55V1167.2H1866.75ZM1915.93 1195.2H1920.72V1200H1915.93ZM1943.91 1146H1948.71V1150.8H1943.91ZM1943.91 1195.2H1948.71V1200H1943.91ZM1948.71 1206.8H1952.81V1211.6H1948.71ZM1952.11 1203.4H1956.9V1207.5H1952.11ZM1952.81 1207.5H1956.9V1211.6H1952.81ZM1960.3 1154.2H1965.1V1159H1960.3Z"/>
<path fill="#0000ff" d="M1853.76 1199.3H1871.55V1203.4H1853.76ZM1853.76 1203.4H1870.85V1207.5H1853.76ZM1961 1190.4H1965.1V1195.2H1961ZM1961 1195.2H1969.9V1208.2H1961ZM1965.1 1191.1H1969.9V1195.2H1965.1ZM1977.39 1191.1H1981.49V1195.2H1977.39ZM1977.39 1195.2H1986.29V1207.5H1977.39ZM1981.49 1190.4H1986.29V1195.2H1981.49Z"/>
<path fill="#0606c6" d="M1846.26 1195.2H1850.36V1199.3H1846.26ZM1846.26 1191.1H1855.16V1195.2H1846.26ZM1845.56 1199.3H1854.46V1203.4H1845.56ZM1850.36 1203.4H1854.46V1208.2H1850.36ZM1870.85 1199.3H1879.05V1203.4H1870.85ZM1874.95 1203.4H1879.05V1208.2H1874.95ZM1887.24 1157.6H1891.34V1162.4H1887.24ZM1886.54 1162.4H1896.14V1166.5H1886.54ZM1911.13 1146H1920.72V1150.1H1911.13ZM1911.83 1203.4H1920.72V1208.2H1911.83ZM1915.93 1141.2H1920.02V1146H1915.93ZM1915.93 1199.3H1920.02V1203.4H1915.93ZM1928.22 1190.4H1932.32V1195.2H1928.22ZM1927.52 1195.2H1937.12V1199.3H1927.52ZM1944.61 1150.1H1948.71V1154.2H1944.61ZM1944.61 1199.3H1948.71V1203.4H1944.61ZM1943.91 1154.2H1953.51V1158.3H1943.91ZM1943.91 1203.4H1952.81V1207.5H1943.91ZM1969.2 1170.6H1973.3V1175.4H1969.2ZM1969.2 1166.5H1977.39V1170.6H1969.2ZM1977.39 1165.8H1981.49V1170.6H1977.39ZM1981.49 1166.5H1986.29V1175.4H1981.49Z"/>
<path fill="#0c0c90" d="M1813.48 1207.5H1829.87V1211.6H1813.48ZM1825.78 1203.4H1829.87V1207.5H1825.78ZM1825.78 1199.3H1846.26V1203.4H1825.78ZM1846.26 1207.5H1854.46V1211.6H1846.26ZM1854.46 1191.1H1891.34V1195.2H1854.46ZM1866.75 1166.5H1870.85V1191.1H1866.75ZM1870.85 1162.4H1887.24V1166.5H1870.85ZM1878.35 1207.5H1895.44V1211.6H1878.35ZM1887.24 1150.1H1891.34V1158.3H1887.24ZM1887.24 1195.2H1891.34V1207.5H1887.24ZM1887.24 1146H1911.83V1150.1H1887.24ZM1895.44 1162.4H1903.63V1166.5H1895.44ZM1899.54 1166.5H1903.63V1208.2H1899.54ZM1911.13 1207.5H1920.02V1211.6H1911.13ZM1915.93 1137.8H1920.02V1141.9H1915.93ZM1915.93 1133.7H1944.61V1137.8H1915.93ZM1920.02 1195.2H1928.22V1199.3H1920.02ZM1920.02 1203.4H1928.22V1207.5H1920.02ZM1920.02 1146H1944.61V1150.1H1920.02ZM1928.22 1158.3H1932.32V1191.1H1928.22ZM1928.22 1154.2H1944.61V1158.3H1928.22ZM1928.22 1207.5H1944.61V1211.6H1928.22ZM1936.42 1195.2H1944.61V1199.3H1936.42ZM1936.42 1203.4H1944.61V1207.5H1936.42ZM1944.61 1133H1948.71V1137.8H1944.61ZM1948.71 1133.7H1981.49V1137.8H1948.71ZM1952.81 1154.2H1961V1158.3H1952.81ZM1961 1158.3H1965.1V1191.1H1961ZM1969.2 1174.7H1973.3V1207.5H1969.2ZM1977.39 1137.8H1981.49V1166.5H1977.39ZM1981.49 1174.7H1986.29V1191.1H1981.49Z"/>
<path fill="#5a0000" d="M805.42 1042.8H809.52V1047.6H805.42Z"/>
<path fill="#300000" d="M289.1 1198.6H293.2V1207.5H289.1ZM288.4 1207.5H293.2V1211.6H288.4ZM309.59 1207.5H317.78V1211.6H309.59ZM338.27 1207.5H342.37V1211.6H338.27ZM428.43 1207.5H432.52V1211.6H428.43ZM608.73 1207.5H612.83V1211.6H608.73ZM690.68 1207.5H694.78V1211.6H690.68ZM842.3 1207.5H847.1V1211.6H842.3Z"/>
<path fill="#180000" d="M1607.89 1207.5H1612.69V1211.6H1607.89ZM1665.96 1207.5H1670.06V1211.6H1665.96ZM1752.01 1207.5H1756.81V1211.6H1752.01Z"/>
<path fill="#000c00" d="M1047.19 1207.5H1051.99V1211.6H1047.19ZM1194.71 1207.5H1199.51V1211.6H1194.71ZM1256.18 1207.5H1260.28V1211.6H1256.18ZM1370.92 1207.5H1375.02V1211.6H1370.92ZM1399.6 1207.5H1403.7V1211.6H1399.6Z"/>
<path fill="#000000" d="M276.81 1207.5H289.1V1211.6H276.81ZM276.81 153.8H293.2V157.9H276.81ZM276.81 502.3H293.2V506.4H276.81ZM276.81 859H293.2V863.1H276.81ZM289.1 39H293.2V153.8H289.1ZM289.1 157.9H293.2V502.3H289.1ZM289.1 506.4H293.2V859H289.1ZM289.1 863.1H293.2V1199.3H289.1ZM289.1 34.9H1989.69V39H289.1ZM366.96 1207.5H379.25V1211.6H366.96ZM395.64 1207.5H403.84V1211.6H395.64ZM457.11 1207.5H465.31V1211.6H457.11ZM485.79 1207.5H493.99V1211.6H485.79ZM575.95 1207.5H584.14V1211.6H575.95ZM633.32 1207.5H641.51V1211.6H633.32ZM662 1207.5H674.29V1211.6H662ZM698.88 1207.5H702.98V1211.6H698.88ZM723.47 1207.5H731.66V1211.6H723.47ZM752.15 1207.5H760.35V1211.6H752.15ZM780.84 1207.5H789.03V1211.6H780.84ZM805.42 157.9H809.52V1043.5H805.42ZM805.42 153.8H1756.11V157.9H805.42ZM809.52 1207.5H813.62V1211.6H809.52ZM846.4 1207.5H850.5V1211.6H846.4ZM928.36 1207.5H936.55V1211.6H928.36ZM957.04 1207.5H969.33V1211.6H957.04ZM985.73 1207.5H998.02V1211.6H985.73ZM1051.29 1207.5H1055.39V1211.6H1051.29ZM1075.88 1207.5H1084.07V1211.6H1075.88ZM1108.66 1207.5H1112.76V1211.6H1108.66ZM1133.25 1207.5H1145.54V1211.6H1133.25ZM1198.81 1207.5H1202.91V1211.6H1198.81ZM1387.31 1023H1391.41V1068.1H1387.31ZM1387.31 1018.9H1735.62V1023H1387.31ZM1428.29 1207.5H1440.58V1211.6H1428.29ZM1489.76 1207.5H1497.95V1211.6H1489.76ZM1518.44 1207.5H1526.64V1211.6H1518.44ZM1559.42 649.9H1563.52V1018.9H1559.42ZM1559.42 645.8H1948.71V649.9H1559.42ZM1575.81 1207.5H1588.1V1211.6H1575.81ZM1604.49 1207.5H1608.59V1211.6H1604.49ZM1694.65 1207.5H1702.84V1211.6H1694.65ZM1731.53 1023H1735.62V1125.5H1731.53ZM1752.01 157.9H1756.11V645.8H1752.01ZM1756.11 1207.5H1764.31V1211.6H1756.11ZM1784.8 1207.5H1792.99V1211.6H1784.8ZM1870.85 1207.5H1879.05V1211.6H1870.85ZM1899.54 1207.5H1911.83V1211.6H1899.54ZM1944.61 649.9H1948.71V1133.7H1944.61ZM1961 1207.5H1969.2V1211.6H1961ZM1985.59 39H1989.69V1211.6H1985.59Z"/>
</g>
<text transform="translate(0 169.6) scale(0.84 1)" x="170.5 200.1 234.6 249.1 283.7" font-size="52.5">67.53</text>
<text transform="translate(0 522.6) scale(0.84 1)" x="170.6 200.2 234.6 249.2 283.5" font-size="52.5">78.35</text>
<text transform="translate(0 874.8) scale(0.84 1)" x="170.6 200.2 234.6 248.4 283.5" font-size="52.5">89.18</text>
<text transform="translate(0 1227.6) scale(0.84 1)" x="141.0 170.6 200.2 234.6 249.1 283.5" font-size="52.5">100.00</text>
<text class="b" x="1021.5" y="1284.6" font-size="53" textLength="224" lengthAdjust="spacingAndGlyphs">Variables</text>
<text class="b" transform="translate(72.1 734.9) rotate(-90)" font-size="53.5" textLength="216.2" lengthAdjust="spacingAndGlyphs">Similarity</text>
</svg>
</body></html>
